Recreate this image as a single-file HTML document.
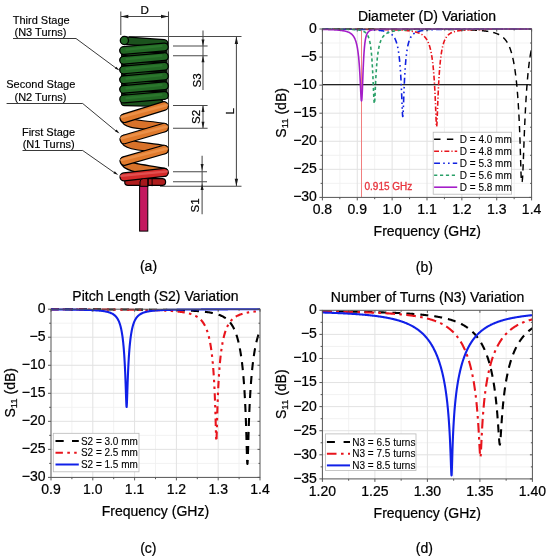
<!DOCTYPE html>
<html><head><meta charset="utf-8"><title>Helical antenna parametric study</title>
<style>
html,body{margin:0;padding:0;background:#fff;}
body{width:550px;height:560px;overflow:hidden;}
svg{display:block;}
text{font-family:"Liberation Sans", Arial, Helvetica, sans-serif;fill:#000;stroke:#000;stroke-width:0.22px;}
.ti{font-size:14px;}
.al{font-size:14px;}
.tl{font-size:14px;}
.lg{font-size:10px;stroke-width:0.1px;}
.st{font-size:11px;fill:#000;stroke-width:0.15px;}
.dt{font-size:11.6px;fill:#000;}
.gm{stroke:#f0f0f0;stroke-width:0.9;}
.gM{stroke:#e2e2e2;stroke-width:1;}
.tk{stroke:#444;stroke-width:0.9;fill:none;}
.box{fill:none;stroke:#555;stroke-width:1;}
.c{fill:none;stroke-width:1.6;stroke-linejoin:round;}
.c2{fill:none;stroke-width:2.1;stroke-linejoin:round;}
</style></head>
<body>
<svg width="550" height="560" viewBox="0 0 550 560">
<line x1="339.83" y1="29" x2="339.83" y2="197.4" class="gm"/>
<line x1="374.7" y1="29" x2="374.7" y2="197.4" class="gm"/>
<line x1="409.57" y1="29" x2="409.57" y2="197.4" class="gm"/>
<line x1="444.43" y1="29" x2="444.43" y2="197.4" class="gm"/>
<line x1="479.3" y1="29" x2="479.3" y2="197.4" class="gm"/>
<line x1="514.17" y1="29" x2="514.17" y2="197.4" class="gm"/>
<line x1="322.4" y1="43.03" x2="531.6" y2="43.03" class="gm"/>
<line x1="322.4" y1="71.1" x2="531.6" y2="71.1" class="gm"/>
<line x1="322.4" y1="99.17" x2="531.6" y2="99.17" class="gm"/>
<line x1="322.4" y1="127.23" x2="531.6" y2="127.23" class="gm"/>
<line x1="322.4" y1="155.3" x2="531.6" y2="155.3" class="gm"/>
<line x1="322.4" y1="183.37" x2="531.6" y2="183.37" class="gm"/>
<line x1="357.27" y1="29" x2="357.27" y2="197.4" class="gM"/>
<line x1="392.13" y1="29" x2="392.13" y2="197.4" class="gM"/>
<line x1="427" y1="29" x2="427" y2="197.4" class="gM"/>
<line x1="461.87" y1="29" x2="461.87" y2="197.4" class="gM"/>
<line x1="496.73" y1="29" x2="496.73" y2="197.4" class="gM"/>
<line x1="322.4" y1="57.07" x2="531.6" y2="57.07" class="gM"/>
<line x1="322.4" y1="85.13" x2="531.6" y2="85.13" class="gM"/>
<line x1="322.4" y1="113.2" x2="531.6" y2="113.2" class="gM"/>
<line x1="322.4" y1="141.27" x2="531.6" y2="141.27" class="gM"/>
<line x1="322.4" y1="169.33" x2="531.6" y2="169.33" class="gM"/>
<clipPath id="cb"><rect x="322.4" y="27" width="209.2" height="170"/></clipPath>
<g clip-path="url(#cb)">
<line x1="322.4" y1="84.7" x2="531.6" y2="84.7" stroke="#222" stroke-width="1.3"/>
<line x1="361.5" y1="29" x2="361.5" y2="197" stroke="#f07878" stroke-width="0.95"/>
<path d="M322.4,29.04 L322.9,29.04 L323.4,29.04 L323.89,29.04 L324.39,29.04 L324.89,29.04 L325.39,29.04 L325.89,29.04 L326.38,29.04 L326.88,29.04 L327.38,29.04 L327.88,29.04 L328.38,29.04 L328.88,29.04 L329.37,29.05 L329.87,29.05 L330.37,29.05 L330.87,29.05 L331.37,29.05 L331.86,29.05 L332.36,29.05 L332.86,29.05 L333.36,29.05 L333.86,29.05 L334.35,29.05 L334.85,29.05 L335.35,29.05 L335.85,29.05 L336.35,29.05 L336.84,29.05 L337.34,29.05 L337.84,29.05 L338.34,29.05 L338.84,29.05 L339.34,29.05 L339.83,29.05 L340.33,29.05 L340.83,29.05 L341.33,29.05 L341.83,29.05 L342.32,29.05 L342.82,29.05 L343.32,29.05 L343.82,29.05 L344.32,29.05 L344.81,29.05 L345.31,29.06 L345.81,29.06 L346.31,29.06 L346.81,29.06 L347.3,29.06 L347.8,29.06 L348.3,29.06 L348.8,29.06 L349.3,29.06 L349.8,29.06 L350.29,29.06 L350.79,29.06 L351.29,29.06 L351.79,29.06 L352.29,29.06 L352.78,29.06 L353.28,29.06 L353.78,29.06 L354.28,29.06 L354.78,29.06 L355.27,29.06 L355.77,29.06 L356.27,29.06 L356.77,29.06 L357.27,29.06 L357.76,29.07 L358.26,29.07 L358.76,29.07 L359.26,29.07 L359.76,29.07 L360.26,29.07 L360.75,29.07 L361.25,29.07 L361.75,29.07 L362.25,29.07 L362.75,29.07 L363.24,29.07 L363.74,29.07 L364.24,29.07 L364.74,29.07 L365.24,29.07 L365.73,29.07 L366.23,29.07 L366.73,29.07 L367.23,29.07 L367.73,29.08 L368.22,29.08 L368.72,29.08 L369.22,29.08 L369.72,29.08 L370.22,29.08 L370.72,29.08 L371.21,29.08 L371.71,29.08 L372.21,29.08 L372.71,29.08 L373.21,29.08 L373.7,29.08 L374.2,29.08 L374.7,29.08 L375.2,29.08 L375.7,29.09 L376.19,29.09 L376.69,29.09 L377.19,29.09 L377.69,29.09 L378.19,29.09 L378.68,29.09 L379.18,29.09 L379.68,29.09 L380.18,29.09 L380.68,29.09 L381.18,29.09 L381.67,29.09 L382.17,29.09 L382.67,29.1 L383.17,29.1 L383.67,29.1 L384.16,29.1 L384.66,29.1 L385.16,29.1 L385.66,29.1 L386.16,29.1 L386.65,29.1 L387.15,29.1 L387.65,29.1 L388.15,29.1 L388.65,29.11 L389.14,29.11 L389.64,29.11 L390.14,29.11 L390.64,29.11 L391.14,29.11 L391.64,29.11 L392.13,29.11 L392.63,29.11 L393.13,29.11 L393.63,29.12 L394.13,29.12 L394.62,29.12 L395.12,29.12 L395.62,29.12 L396.12,29.12 L396.62,29.12 L397.11,29.12 L397.61,29.12 L398.11,29.13 L398.61,29.13 L399.11,29.13 L399.6,29.13 L400.1,29.13 L400.6,29.13 L401.1,29.13 L401.6,29.13 L402.1,29.13 L402.59,29.14 L403.09,29.14 L403.59,29.14 L404.09,29.14 L404.59,29.14 L405.08,29.14 L405.58,29.14 L406.08,29.15 L406.58,29.15 L407.08,29.15 L407.57,29.15 L408.07,29.15 L408.57,29.15 L409.07,29.15 L409.57,29.16 L410.06,29.16 L410.56,29.16 L411.06,29.16 L411.56,29.16 L412.06,29.16 L412.56,29.17 L413.05,29.17 L413.55,29.17 L414.05,29.17 L414.55,29.17 L415.05,29.18 L415.54,29.18 L416.04,29.18 L416.54,29.18 L417.04,29.18 L417.54,29.19 L418.03,29.19 L418.53,29.19 L419.03,29.19 L419.53,29.19 L420.03,29.2 L420.52,29.2 L421.02,29.2 L421.52,29.2 L422.02,29.21 L422.52,29.21 L423.02,29.21 L423.51,29.21 L424.01,29.22 L424.51,29.22 L425.01,29.22 L425.51,29.22 L426,29.23 L426.5,29.23 L427,29.23 L427.5,29.23 L428,29.24 L428.49,29.24 L428.99,29.24 L429.49,29.25 L429.99,29.25 L430.49,29.25 L430.98,29.26 L431.48,29.26 L431.98,29.26 L432.48,29.26 L432.98,29.27 L433.48,29.27 L433.97,29.28 L434.47,29.28 L434.97,29.28 L435.47,29.29 L435.97,29.29 L436.46,29.29 L436.96,29.3 L437.46,29.3 L437.96,29.31 L438.46,29.31 L438.95,29.32 L439.45,29.32 L439.95,29.32 L440.45,29.33 L440.95,29.33 L441.44,29.34 L441.94,29.34 L442.44,29.35 L442.94,29.35 L443.44,29.36 L443.94,29.36 L444.43,29.37 L444.93,29.37 L445.43,29.38 L445.93,29.39 L446.43,29.39 L446.92,29.4 L447.42,29.4 L447.92,29.41 L448.42,29.42 L448.92,29.42 L449.41,29.43 L449.91,29.44 L450.41,29.44 L450.91,29.45 L451.41,29.46 L451.9,29.47 L452.4,29.47 L452.9,29.48 L453.4,29.49 L453.9,29.5 L454.4,29.51 L454.89,29.51 L455.39,29.52 L455.89,29.53 L456.39,29.54 L456.89,29.55 L457.38,29.56 L457.88,29.57 L458.38,29.58 L458.88,29.59 L459.38,29.6 L459.87,29.61 L460.37,29.63 L460.87,29.64 L461.37,29.65 L461.87,29.66 L462.36,29.67 L462.86,29.69 L463.36,29.7 L463.86,29.72 L464.36,29.73 L464.86,29.74 L465.35,29.76 L465.85,29.77 L466.35,29.79 L466.85,29.81 L467.35,29.82 L467.84,29.84 L468.34,29.86 L468.84,29.88 L469.34,29.9 L469.84,29.92 L470.33,29.94 L470.83,29.96 L471.33,29.98 L471.83,30 L472.33,30.03 L472.82,30.05 L473.32,30.07 L473.82,30.1 L474.32,30.13 L474.82,30.15 L475.32,30.18 L475.81,30.21 L476.31,30.24 L476.81,30.27 L477.31,30.3 L477.81,30.34 L478.3,30.37 L478.8,30.41 L479.3,30.45 L479.8,30.48 L480.3,30.53 L480.79,30.57 L481.29,30.61 L481.79,30.66 L482.29,30.7 L482.79,30.75 L483.28,30.8 L483.78,30.86 L484.28,30.91 L484.78,30.97 L485.28,31.03 L485.78,31.09 L486.27,31.16 L486.77,31.23 L487.27,31.3 L487.77,31.38 L488.27,31.45 L488.76,31.54 L489.26,31.62 L489.76,31.71 L490.26,31.81 L490.76,31.91 L491.25,32.01 L491.75,32.12 L492.25,32.24 L492.75,32.36 L493.25,32.49 L493.74,32.62 L494.24,32.77 L494.74,32.92 L495.24,33.08 L495.74,33.25 L496.24,33.42 L496.73,33.61 L497.23,33.81 L497.73,34.03 L498.23,34.25 L498.73,34.49 L499.22,34.75 L499.72,35.02 L500.22,35.31 L500.72,35.61 L501.22,35.94 L501.71,36.3 L502.21,36.67 L502.71,37.08 L503.21,37.51 L503.71,37.98 L504.2,38.48 L504.7,39.02 L505.2,39.6 L505.7,40.22 L506.2,40.9 L506.7,41.63 L507.19,42.42 L507.69,43.27 L508.19,44.2 L508.69,45.21 L509.19,46.31 L509.68,47.51 L510.18,48.81 L510.68,50.24 L511.15,51.7 L511.41,52.56 L511.66,53.45 L511.91,54.37 L512.16,55.32 L512.4,56.29 L512.64,57.29 L512.88,58.31 L513.11,59.37 L513.17,59.68 L513.33,60.45 L513.55,61.56 L513.67,62.17 L513.77,62.7 L513.98,63.87 L514.17,64.91 L514.4,66.3 L514.6,67.55 L514.66,67.95 L514.8,68.83 L515,70.15 L515.16,71.32 L515.37,72.85 L515.56,74.25 L515.66,75.07 L515.74,75.68 L515.91,77.13 L516.08,78.61 L516.16,79.27 L516.25,80.12 L516.42,81.66 L516.58,83.22 L516.66,83.97 L516.74,84.81 L516.9,86.43 L517.05,88.08 L517.16,89.28 L517.2,89.75 L517.34,91.45 L517.48,93.18 L517.62,94.93 L517.65,95.31 L517.76,96.71 L517.89,98.51 L518.02,100.34 L518.15,102.19 L518.27,104.07 L518.39,105.97 L518.51,107.89 L518.63,109.84 L518.65,110.27 L518.74,111.81 L518.85,113.8 L518.95,115.82 L519.06,117.85 L519.15,119.71 L519.25,121.96 L519.35,124.05 L519.44,126.15 L519.53,128.26 L519.62,130.38 L519.65,130.99 L519.71,132.51 L519.79,134.65 L519.87,136.79 L519.95,138.93 L520.02,141.07 L520.1,143.2 L520.14,144.62 L520.17,145.32 L520.24,147.42 L520.3,149.5 L520.37,151.56 L520.43,153.58 L520.49,155.57 L520.55,157.51 L520.6,159.4 L520.64,160.74 L520.66,161.23 L520.71,163 L520.76,164.7 L520.81,166.33 L520.85,167.87 L520.9,169.33 L520.94,170.7 L520.98,171.98 L521.02,173.17 L521.06,174.26 L521.09,175.26 L521.13,176.17 L521.14,176.47 L521.16,177 L521.19,177.73 L521.22,178.39 L521.25,178.97 L521.28,179.48 L521.3,179.92 L521.33,180.31 L521.35,180.64 L521.37,180.93 L521.39,181.17 L521.43,181.54 L521.46,181.8 L521.5,182.03 L521.57,182.22 L521.83,182.2 L521.97,182.03 L522.06,181.81 L522.13,181.57 L522.2,181.21 L522.24,180.97 L522.28,180.69 L522.32,180.36 L522.37,179.96 L522.41,179.5 L522.46,178.97 L522.51,178.35 L522.56,177.64 L522.62,176.83 L522.63,176.55 L522.67,175.91 L522.73,174.89 L522.79,173.74 L522.85,172.47 L522.92,171.08 L522.98,169.56 L523.05,167.91 L523.12,166.15 L523.2,164.27 L523.27,162.28 L523.35,160.19 L523.43,158 L523.51,155.73 L523.6,153.38 L523.63,152.49 L523.69,150.97 L523.78,148.5 L523.87,145.97 L523.96,143.41 L524.06,140.82 L524.13,139.1 L524.16,138.2 L524.27,135.57 L524.37,132.92 L524.48,130.27 L524.59,127.62 L524.63,126.86 L524.71,124.97 L524.83,122.34 L524.95,119.71 L525.07,117.1 L525.12,115.98 L525.2,114.51 L525.33,111.93 L525.46,109.39 L525.6,106.86 L525.62,106.37 L525.73,104.37 L525.88,101.9 L526.02,99.47 L526.12,97.87 L526.17,97.07 L526.32,94.7 L526.48,92.37 L526.62,90.33 L526.64,90.07 L526.8,87.82 L526.97,85.6 L527.12,83.64 L527.31,81.29 L527.48,79.19 L527.62,77.68 L527.66,77.15 L527.85,75.14 L528.03,73.19 L528.11,72.37 L528.22,71.28 L528.42,69.41 L528.61,67.65 L528.82,65.84 L529.03,64.12 L529.11,63.45 L529.23,62.46 L529.45,60.85 L529.61,59.71 L529.67,59.29 L529.89,57.79 L530.11,56.39 L530.34,54.93 L530.58,53.59 L530.82,52.29 L531.06,51.05 L531.1,50.83 L531.3,49.85 L531.56,48.71 L531.6,48.52" class="c" stroke="#000" stroke-width="1.45" style="stroke-width:1.45px" stroke-dasharray="6.4,5"/>
<path d="M322.4,29.13 L322.9,29.13 L323.4,29.13 L323.89,29.13 L324.39,29.13 L324.89,29.13 L325.39,29.14 L325.89,29.14 L326.38,29.14 L326.88,29.14 L327.38,29.14 L327.88,29.14 L328.38,29.14 L328.88,29.14 L329.37,29.15 L329.87,29.15 L330.37,29.15 L330.87,29.15 L331.37,29.15 L331.86,29.15 L332.36,29.15 L332.86,29.15 L333.36,29.16 L333.86,29.16 L334.35,29.16 L334.85,29.16 L335.35,29.16 L335.85,29.16 L336.35,29.16 L336.84,29.17 L337.34,29.17 L337.84,29.17 L338.34,29.17 L338.84,29.17 L339.34,29.17 L339.83,29.18 L340.33,29.18 L340.83,29.18 L341.33,29.18 L341.83,29.18 L342.32,29.19 L342.82,29.19 L343.32,29.19 L343.82,29.19 L344.32,29.19 L344.81,29.19 L345.31,29.2 L345.81,29.2 L346.31,29.2 L346.81,29.2 L347.3,29.21 L347.8,29.21 L348.3,29.21 L348.8,29.21 L349.3,29.21 L349.8,29.22 L350.29,29.22 L350.79,29.22 L351.29,29.22 L351.79,29.23 L352.29,29.23 L352.78,29.23 L353.28,29.23 L353.78,29.24 L354.28,29.24 L354.78,29.24 L355.27,29.24 L355.77,29.25 L356.27,29.25 L356.77,29.25 L357.27,29.26 L357.76,29.26 L358.26,29.26 L358.76,29.27 L359.26,29.27 L359.76,29.27 L360.26,29.28 L360.75,29.28 L361.25,29.28 L361.75,29.29 L362.25,29.29 L362.75,29.29 L363.24,29.3 L363.74,29.3 L364.24,29.3 L364.74,29.31 L365.24,29.31 L365.73,29.32 L366.23,29.32 L366.73,29.33 L367.23,29.33 L367.73,29.33 L368.22,29.34 L368.72,29.34 L369.22,29.35 L369.72,29.35 L370.22,29.36 L370.72,29.36 L371.21,29.37 L371.71,29.37 L372.21,29.38 L372.71,29.39 L373.21,29.39 L373.7,29.4 L374.2,29.4 L374.7,29.41 L375.2,29.41 L375.7,29.42 L376.19,29.43 L376.69,29.43 L377.19,29.44 L377.69,29.45 L378.19,29.46 L378.68,29.46 L379.18,29.47 L379.68,29.48 L380.18,29.49 L380.68,29.49 L381.18,29.5 L381.67,29.51 L382.17,29.52 L382.67,29.53 L383.17,29.54 L383.67,29.55 L384.16,29.56 L384.66,29.57 L385.16,29.58 L385.66,29.59 L386.16,29.6 L386.65,29.61 L387.15,29.62 L387.65,29.63 L388.15,29.65 L388.65,29.66 L389.14,29.67 L389.64,29.69 L390.14,29.7 L390.64,29.71 L391.14,29.73 L391.64,29.74 L392.13,29.76 L392.63,29.77 L393.13,29.79 L393.63,29.81 L394.13,29.83 L394.62,29.84 L395.12,29.86 L395.62,29.88 L396.12,29.9 L396.62,29.92 L397.11,29.95 L397.61,29.97 L398.11,29.99 L398.61,30.02 L399.11,30.04 L399.6,30.07 L400.1,30.09 L400.6,30.12 L401.1,30.15 L401.6,30.18 L402.1,30.21 L402.59,30.25 L403.09,30.28 L403.59,30.32 L404.09,30.35 L404.59,30.39 L405.08,30.43 L405.58,30.48 L406.08,30.52 L406.58,30.57 L407.08,30.62 L407.57,30.67 L408.07,30.72 L408.57,30.78 L409.07,30.84 L409.57,30.9 L410.06,30.96 L410.56,31.03 L411.06,31.1 L411.56,31.18 L412.06,31.26 L412.56,31.35 L413.05,31.44 L413.55,31.53 L414.05,31.63 L414.55,31.74 L415.05,31.85 L415.54,31.98 L416.04,32.1 L416.54,32.24 L417.04,32.39 L417.54,32.55 L418.03,32.72 L418.53,32.9 L419.03,33.09 L419.53,33.3 L420.03,33.52 L420.52,33.77 L421.02,34.03 L421.52,34.32 L422.02,34.63 L422.52,34.96 L423.02,35.33 L423.51,35.74 L424.01,36.18 L424.51,36.66 L425.01,37.2 L425.51,37.79 L426,38.44 L426.13,38.62 L426.39,39 L426.5,39.17 L426.65,39.4 L426.9,39.81 L427,39.99 L427.14,40.24 L427.38,40.68 L427.5,40.9 L427.62,41.14 L427.86,41.62 L428,41.92 L428.09,42.12 L428.31,42.64 L428.49,43.08 L428.75,43.73 L428.97,44.31 L429.18,44.91 L429.38,45.53 L429.49,45.87 L429.58,46.17 L429.78,46.83 L429.98,47.52 L430.17,48.23 L430.35,48.97 L430.49,49.51 L430.54,49.73 L430.72,50.51 L430.89,51.32 L430.98,51.76 L431.07,52.16 L431.24,53.02 L431.4,53.91 L431.48,54.37 L431.56,54.83 L431.72,55.77 L431.88,56.74 L431.98,57.41 L432.03,57.73 L432.18,58.75 L432.32,59.8 L432.47,60.88 L432.6,61.98 L432.74,63.11 L432.87,64.27 L432.98,65.21 L433,65.45 L433.13,66.66 L433.25,67.89 L433.37,69.15 L433.48,70.26 L433.61,71.75 L433.72,73.08 L433.83,74.43 L433.93,75.81 L433.97,76.33 L434.04,77.2 L434.14,78.62 L434.24,80.05 L434.33,81.5 L434.42,82.97 L434.47,83.73 L434.51,84.45 L434.6,85.94 L434.69,87.44 L434.77,88.95 L434.85,90.47 L434.93,91.99 L434.97,92.81 L435,93.51 L435.08,95.03 L435.15,96.55 L435.22,98.05 L435.28,99.55 L435.35,101.03 L435.41,102.49 L435.47,103.88 L435.53,105.35 L435.58,106.74 L435.64,108.1 L435.69,109.41 L435.74,110.69 L435.79,111.93 L435.83,113.12 L435.88,114.25 L435.92,115.34 L435.96,116.37 L436,117.35 L436.04,118.27 L436.08,119.13 L436.11,119.93 L436.14,120.67 L436.17,121.36 L436.2,121.99 L436.23,122.56 L436.26,123.09 L436.28,123.56 L436.31,123.98 L436.33,124.36 L436.35,124.7 L436.37,124.99 L436.39,125.26 L436.43,125.68 L436.46,126 L436.48,126.23 L436.52,126.45 L436.57,126.65 L436.67,126.5 L436.72,126.23 L436.75,126 L436.79,125.67 L436.83,125.23 L436.85,124.95 L436.87,124.64 L436.9,124.28 L436.92,123.88 L436.95,123.42 L436.98,122.91 L437.01,122.34 L437.04,121.71 L437.07,121.02 L437.11,120.26 L437.14,119.44 L437.18,118.55 L437.22,117.59 L437.26,116.56 L437.3,115.47 L437.35,114.31 L437.39,113.09 L437.44,111.81 L437.46,111.33 L437.49,110.48 L437.54,109.09 L437.6,107.66 L437.65,106.18 L437.71,104.66 L437.77,103.11 L437.83,101.53 L437.9,99.92 L437.96,98.46 L438.03,96.65 L438.1,95 L438.18,93.34 L438.25,91.67 L438.33,90 L438.41,88.34 L438.46,87.43 L438.49,86.68 L438.58,85.03 L438.67,83.39 L438.76,81.76 L438.85,80.16 L438.95,78.57 L439.04,77 L439.14,75.45 L439.25,73.93 L439.35,72.43 L439.45,71.11 L439.58,69.52 L439.69,68.1 L439.81,66.72 L439.93,65.37 L439.95,65.12 L440.05,64.04 L440.18,62.75 L440.31,61.49 L440.44,60.27 L440.58,59.07 L440.72,57.91 L440.86,56.79 L440.95,56.11 L441,55.69 L441.15,54.63 L441.3,53.6 L441.44,52.7 L441.62,51.65 L441.78,50.72 L441.94,49.84 L442.12,48.95 L442.29,48.12 L442.44,47.42 L442.64,46.54 L442.83,45.79 L442.94,45.36 L443.01,45.07 L443.21,44.38 L443.4,43.72 L443.6,43.08 L443.8,42.47 L443.94,42.09 L444.01,41.89 L444.22,41.33 L444.43,40.79 L444.65,40.27 L444.87,39.78 L445.1,39.31 L445.33,38.86 L445.43,38.66 L445.56,38.43 L445.8,38.02 L445.93,37.8 L446.04,37.62 L446.29,37.24 L446.43,37.04 L446.54,36.88 L446.79,36.54 L446.92,36.37 L447.05,36.21 L447.42,35.78 L447.92,35.25 L448.42,34.78 L448.92,34.35 L449.41,33.97 L449.91,33.63 L450.41,33.32 L450.91,33.04 L451.41,32.79 L451.9,32.56 L452.4,32.34 L452.9,32.15 L453.4,31.97 L453.9,31.81 L454.4,31.66 L454.89,31.52 L455.39,31.39 L455.89,31.27 L456.39,31.16 L456.89,31.05 L457.38,30.96 L457.88,30.87 L458.38,30.78 L458.88,30.7 L459.38,30.63 L459.87,30.56 L460.37,30.5 L460.87,30.44 L461.37,30.38 L461.87,30.32 L462.36,30.27 L462.86,30.22 L463.36,30.18 L463.86,30.14 L464.36,30.1 L464.86,30.06 L465.35,30.02 L465.85,29.99 L466.35,29.95 L466.85,29.92 L467.35,29.89 L467.84,29.86 L468.34,29.83 L468.84,29.81 L469.34,29.78 L469.84,29.76 L470.33,29.74 L470.83,29.72 L471.33,29.7 L471.83,29.68 L472.33,29.66 L472.82,29.64 L473.32,29.62 L473.82,29.6 L474.32,29.59 L474.82,29.57 L475.32,29.56 L475.81,29.54 L476.31,29.53 L476.81,29.52 L477.31,29.5 L477.81,29.49 L478.3,29.48 L478.8,29.47 L479.3,29.46 L479.8,29.45 L480.3,29.43 L480.79,29.42 L481.29,29.42 L481.79,29.41 L482.29,29.4 L482.79,29.39 L483.28,29.38 L483.78,29.37 L484.28,29.36 L484.78,29.36 L485.28,29.35 L485.78,29.34 L486.27,29.33 L486.77,29.33 L487.27,29.32 L487.77,29.31 L488.27,29.31 L488.76,29.3 L489.26,29.3 L489.76,29.29 L490.26,29.29 L490.76,29.28 L491.25,29.27 L491.75,29.27 L492.25,29.26 L492.75,29.26 L493.25,29.26 L493.74,29.25 L494.24,29.25 L494.74,29.24 L495.24,29.24 L495.74,29.23 L496.24,29.23 L496.73,29.23 L497.23,29.22 L497.73,29.22 L498.23,29.21 L498.73,29.21 L499.22,29.21 L499.72,29.2 L500.22,29.2 L500.72,29.2 L501.22,29.19 L501.71,29.19 L502.21,29.19 L502.71,29.19 L503.21,29.18 L503.71,29.18 L504.2,29.18 L504.7,29.17 L505.2,29.17 L505.7,29.17 L506.2,29.17 L506.7,29.16 L507.19,29.16 L507.69,29.16 L508.19,29.16 L508.69,29.16 L509.19,29.15 L509.68,29.15 L510.18,29.15 L510.68,29.15 L511.18,29.14 L511.68,29.14 L512.17,29.14 L512.67,29.14 L513.17,29.14 L513.67,29.14 L514.17,29.13 L514.66,29.13 L515.16,29.13 L515.66,29.13 L516.16,29.13 L516.66,29.13 L517.16,29.12 L517.65,29.12 L518.15,29.12 L518.65,29.12 L519.15,29.12 L519.65,29.12 L520.14,29.11 L520.64,29.11 L521.14,29.11 L521.64,29.11 L522.14,29.11 L522.63,29.11 L523.13,29.11 L523.63,29.11 L524.13,29.1 L524.63,29.1 L525.12,29.1 L525.62,29.1 L526.12,29.1 L526.62,29.1 L527.12,29.1 L527.62,29.1 L528.11,29.09 L528.61,29.09 L529.11,29.09 L529.61,29.09 L530.11,29.09 L530.6,29.09 L531.1,29.09 L531.6,29.09" class="c" stroke="#e8141c" stroke-dasharray="4.9,2.1,1.2,2.1"/>
<path d="M322.4,29.13 L322.9,29.13 L323.4,29.13 L323.89,29.13 L324.39,29.13 L324.89,29.13 L325.39,29.14 L325.89,29.14 L326.38,29.14 L326.88,29.14 L327.38,29.14 L327.88,29.15 L328.38,29.15 L328.88,29.15 L329.37,29.15 L329.87,29.15 L330.37,29.16 L330.87,29.16 L331.37,29.16 L331.86,29.16 L332.36,29.16 L332.86,29.17 L333.36,29.17 L333.86,29.17 L334.35,29.17 L334.85,29.18 L335.35,29.18 L335.85,29.18 L336.35,29.18 L336.84,29.19 L337.34,29.19 L337.84,29.19 L338.34,29.19 L338.84,29.2 L339.34,29.2 L339.83,29.2 L340.33,29.21 L340.83,29.21 L341.33,29.21 L341.83,29.22 L342.32,29.22 L342.82,29.22 L343.32,29.23 L343.82,29.23 L344.32,29.24 L344.81,29.24 L345.31,29.24 L345.81,29.25 L346.31,29.25 L346.81,29.26 L347.3,29.26 L347.8,29.27 L348.3,29.27 L348.8,29.27 L349.3,29.28 L349.8,29.28 L350.29,29.29 L350.79,29.3 L351.29,29.3 L351.79,29.31 L352.29,29.31 L352.78,29.32 L353.28,29.32 L353.78,29.33 L354.28,29.34 L354.78,29.34 L355.27,29.35 L355.77,29.36 L356.27,29.37 L356.77,29.37 L357.27,29.38 L357.76,29.39 L358.26,29.4 L358.76,29.41 L359.26,29.42 L359.76,29.43 L360.26,29.44 L360.75,29.45 L361.25,29.46 L361.75,29.47 L362.25,29.48 L362.75,29.49 L363.24,29.5 L363.74,29.51 L364.24,29.53 L364.74,29.54 L365.24,29.55 L365.73,29.57 L366.23,29.58 L366.73,29.6 L367.23,29.62 L367.73,29.63 L368.22,29.65 L368.72,29.67 L369.22,29.69 L369.72,29.71 L370.22,29.73 L370.72,29.75 L371.21,29.77 L371.71,29.8 L372.21,29.82 L372.71,29.85 L373.21,29.88 L373.7,29.91 L374.2,29.94 L374.7,29.97 L375.2,30 L375.7,30.04 L376.19,30.08 L376.69,30.12 L377.19,30.16 L377.69,30.2 L378.19,30.25 L378.68,30.3 L379.18,30.35 L379.68,30.41 L380.18,30.47 L380.68,30.53 L381.18,30.6 L381.67,30.67 L382.17,30.74 L382.67,30.83 L383.17,30.91 L383.67,31.01 L384.16,31.11 L384.66,31.22 L385.16,31.34 L385.66,31.47 L386.16,31.6 L386.65,31.75 L387.15,31.92 L387.65,32.1 L388.15,32.29 L388.65,32.51 L389.14,32.74 L389.64,33 L390.14,33.29 L390.64,33.6 L391.14,33.96 L391.64,34.35 L392.13,34.79 L392.31,34.96 L392.57,35.23 L392.83,35.5 L393.08,35.79 L393.32,36.09 L393.57,36.4 L393.81,36.73 L394.04,37.08 L394.27,37.44 L394.49,37.81 L394.62,38.04 L394.72,38.21 L394.93,38.62 L395.12,39 L395.36,39.5 L395.56,39.97 L395.77,40.46 L395.96,40.98 L396.12,41.4 L396.35,42.07 L396.54,42.65 L396.62,42.91 L396.72,43.25 L396.9,43.89 L397.08,44.54 L397.25,45.23 L397.42,45.94 L397.58,46.67 L397.75,47.44 L397.9,48.23 L398.06,49.06 L398.11,49.34 L398.21,49.91 L398.36,50.8 L398.51,51.71 L398.61,52.39 L398.65,52.66 L398.79,53.63 L398.92,54.64 L399.06,55.68 L399.11,56.1 L399.19,56.75 L399.31,57.85 L399.44,58.99 L399.56,60.15 L399.6,60.64 L399.67,61.34 L399.79,62.57 L399.9,63.82 L400.01,65.1 L400.1,66.25 L400.22,67.75 L400.32,69.11 L400.42,70.49 L400.51,71.9 L400.6,73.24 L400.7,74.78 L400.78,76.24 L400.87,77.72 L400.95,79.22 L401.03,80.72 L401.1,82 L401.19,83.75 L401.26,85.27 L401.33,86.78 L401.4,88.29 L401.47,89.8 L401.53,91.29 L401.59,92.76 L401.65,94.21 L401.71,95.64 L401.77,97.04 L401.82,98.4 L401.87,99.73 L401.92,101.01 L401.97,102.25 L402.02,103.44 L402.06,104.58 L402.1,105.45 L402.14,106.69 L402.18,107.66 L402.22,108.57 L402.26,109.42 L402.29,110.2 L402.32,110.93 L402.36,111.6 L402.39,112.21 L402.41,112.76 L402.44,113.26 L402.47,113.71 L402.49,114.11 L402.51,114.47 L402.54,114.79 L402.56,115.06 L402.57,115.3 L402.61,115.69 L402.64,115.98 L402.68,116.26 L402.72,116.49 L402.86,116.35 L402.89,116.13 L402.92,115.9 L402.95,115.58 L402.99,115.14 L403.01,114.87 L403.03,114.56 L403.06,114.21 L403.08,113.81 L403.11,113.36 L403.13,112.86 L403.16,112.3 L403.19,111.68 L403.22,111 L403.25,110.26 L403.29,109.46 L403.32,108.59 L403.36,107.65 L403.4,106.66 L403.44,105.59 L403.49,104.47 L403.53,103.29 L403.58,102.05 L403.59,101.69 L403.62,100.76 L403.67,99.43 L403.73,98.04 L403.78,96.62 L403.84,95.17 L403.89,93.68 L403.95,92.16 L404.02,90.63 L404.08,89.08 L404.15,87.51 L404.22,85.94 L404.29,84.36 L404.36,82.78 L404.44,81.21 L404.51,79.64 L404.59,78.24 L404.68,76.54 L404.76,75.01 L404.85,73.5 L404.94,72.01 L405.03,70.54 L405.08,69.75 L405.13,69.09 L405.23,67.67 L405.33,66.28 L405.43,64.92 L405.54,63.58 L405.58,63.03 L405.65,62.28 L405.76,61.01 L405.87,59.77 L405.99,58.56 L406.08,57.68 L406.11,57.39 L406.23,56.25 L406.36,55.14 L406.49,54.07 L406.58,53.38 L406.62,53.03 L406.76,52.03 L406.9,51.06 L407.04,50.12 L407.08,49.9 L407.19,49.22 L407.33,48.35 L407.49,47.51 L407.57,47.05 L407.64,46.7 L407.8,45.93 L407.96,45.18 L408.07,44.7 L408.13,44.46 L408.3,43.78 L408.47,43.12 L408.57,42.76 L408.65,42.49 L408.83,41.88 L409.01,41.3 L409.2,40.75 L409.39,40.22 L409.57,39.75 L409.78,39.23 L409.98,38.77 L410.06,38.59 L410.19,38.33 L410.4,37.91 L410.56,37.59 L410.83,37.12 L411.05,36.75 L411.28,36.41 L411.51,36.07 L411.74,35.76 L411.98,35.45 L412.22,35.17 L412.47,34.89 L412.72,34.63 L412.97,34.38 L413.23,34.14 L413.55,33.87 L414.05,33.49 L414.55,33.15 L415.05,32.84 L415.54,32.57 L416.04,32.32 L416.54,32.1 L417.04,31.9 L417.54,31.72 L418.03,31.55 L418.53,31.4 L419.03,31.26 L419.53,31.13 L420.03,31.02 L420.52,30.91 L421.02,30.81 L421.52,30.72 L422.02,30.63 L422.52,30.55 L423.02,30.48 L423.51,30.41 L424.01,30.35 L424.51,30.29 L425.01,30.23 L425.51,30.18 L426,30.13 L426.5,30.09 L427,30.04 L427.5,30 L428,29.96 L428.49,29.93 L428.99,29.89 L429.49,29.86 L429.99,29.83 L430.49,29.8 L430.98,29.77 L431.48,29.75 L431.98,29.72 L432.48,29.7 L432.98,29.67 L433.48,29.65 L433.97,29.63 L434.47,29.61 L434.97,29.59 L435.47,29.58 L435.97,29.56 L436.46,29.54 L436.96,29.53 L437.46,29.51 L437.96,29.5 L438.46,29.48 L438.95,29.47 L439.45,29.46 L439.95,29.45 L440.45,29.43 L440.95,29.42 L441.44,29.41 L441.94,29.4 L442.44,29.39 L442.94,29.38 L443.44,29.37 L443.94,29.36 L444.43,29.36 L444.93,29.35 L445.43,29.34 L445.93,29.33 L446.43,29.32 L446.92,29.32 L447.42,29.31 L447.92,29.3 L448.42,29.3 L448.92,29.29 L449.41,29.28 L449.91,29.28 L450.41,29.27 L450.91,29.27 L451.41,29.26 L451.9,29.26 L452.4,29.25 L452.9,29.25 L453.4,29.24 L453.9,29.24 L454.4,29.23 L454.89,29.23 L455.39,29.22 L455.89,29.22 L456.39,29.21 L456.89,29.21 L457.38,29.21 L457.88,29.2 L458.38,29.2 L458.88,29.2 L459.38,29.19 L459.87,29.19 L460.37,29.19 L460.87,29.18 L461.37,29.18 L461.87,29.18 L462.36,29.17 L462.86,29.17 L463.36,29.17 L463.86,29.17 L464.36,29.16 L464.86,29.16 L465.35,29.16 L465.85,29.16 L466.35,29.15 L466.85,29.15 L467.35,29.15 L467.84,29.15 L468.34,29.14 L468.84,29.14 L469.34,29.14 L469.84,29.14 L470.33,29.14 L470.83,29.13 L471.33,29.13 L471.83,29.13 L472.33,29.13 L472.82,29.13 L473.32,29.12 L473.82,29.12 L474.32,29.12 L474.82,29.12 L475.32,29.12 L475.81,29.12 L476.31,29.11 L476.81,29.11 L477.31,29.11 L477.81,29.11 L478.3,29.11 L478.8,29.11 L479.3,29.11 L479.8,29.1 L480.3,29.1 L480.79,29.1 L481.29,29.1 L481.79,29.1 L482.29,29.1 L482.79,29.1 L483.28,29.1 L483.78,29.09 L484.28,29.09 L484.78,29.09 L485.28,29.09 L485.78,29.09 L486.27,29.09 L486.77,29.09 L487.27,29.09 L487.77,29.09 L488.27,29.08 L488.76,29.08 L489.26,29.08 L489.76,29.08 L490.26,29.08 L490.76,29.08 L491.25,29.08 L491.75,29.08 L492.25,29.08 L492.75,29.08 L493.25,29.08 L493.74,29.07 L494.24,29.07 L494.74,29.07 L495.24,29.07 L495.74,29.07 L496.24,29.07 L496.73,29.07 L497.23,29.07 L497.73,29.07 L498.23,29.07 L498.73,29.07 L499.22,29.07 L499.72,29.07 L500.22,29.06 L500.72,29.06 L501.22,29.06 L501.71,29.06 L502.21,29.06 L502.71,29.06 L503.21,29.06 L503.71,29.06 L504.2,29.06 L504.7,29.06 L505.2,29.06 L505.7,29.06 L506.2,29.06 L506.7,29.06 L507.19,29.06 L507.69,29.06 L508.19,29.06 L508.69,29.05 L509.19,29.05 L509.68,29.05 L510.18,29.05 L510.68,29.05 L511.18,29.05 L511.68,29.05 L512.17,29.05 L512.67,29.05 L513.17,29.05 L513.67,29.05 L514.17,29.05 L514.66,29.05 L515.16,29.05 L515.66,29.05 L516.16,29.05 L516.66,29.05 L517.16,29.05 L517.65,29.05 L518.15,29.05 L518.65,29.05 L519.15,29.05 L519.65,29.05 L520.14,29.04 L520.64,29.04 L521.14,29.04 L521.64,29.04 L522.14,29.04 L522.63,29.04 L523.13,29.04 L523.63,29.04 L524.13,29.04 L524.63,29.04 L525.12,29.04 L525.62,29.04 L526.12,29.04 L526.62,29.04 L527.12,29.04 L527.62,29.04 L528.11,29.04 L528.61,29.04 L529.11,29.04 L529.61,29.04 L530.11,29.04 L530.6,29.04 L531.1,29.04 L531.6,29.04" class="c" stroke="#1020e0" stroke-dasharray="5.9,3.2,1.6,3.2,1.6,3.2"/>
<path d="M322.4,29.07 L322.9,29.07 L323.4,29.08 L323.89,29.08 L324.39,29.08 L324.89,29.08 L325.39,29.08 L325.89,29.08 L326.38,29.09 L326.88,29.09 L327.38,29.09 L327.88,29.09 L328.38,29.1 L328.88,29.1 L329.37,29.1 L329.87,29.1 L330.37,29.11 L330.87,29.11 L331.37,29.11 L331.86,29.11 L332.36,29.12 L332.86,29.12 L333.36,29.12 L333.86,29.13 L334.35,29.13 L334.85,29.13 L335.35,29.14 L335.85,29.14 L336.35,29.15 L336.84,29.15 L337.34,29.16 L337.84,29.16 L338.34,29.16 L338.84,29.17 L339.34,29.18 L339.83,29.18 L340.33,29.19 L340.83,29.19 L341.33,29.2 L341.83,29.21 L342.32,29.21 L342.82,29.22 L343.32,29.23 L343.82,29.24 L344.32,29.25 L344.81,29.26 L345.31,29.27 L345.81,29.28 L346.31,29.29 L346.81,29.3 L347.3,29.31 L347.8,29.33 L348.3,29.34 L348.8,29.36 L349.3,29.37 L349.8,29.39 L350.29,29.41 L350.79,29.43 L351.29,29.45 L351.79,29.47 L352.29,29.5 L352.78,29.52 L353.28,29.55 L353.78,29.58 L354.28,29.61 L354.78,29.65 L355.27,29.68 L355.77,29.73 L356.27,29.77 L356.77,29.82 L357.27,29.87 L357.76,29.93 L358.26,30 L358.76,30.07 L359.26,30.15 L359.76,30.24 L360.26,30.33 L360.75,30.44 L361.25,30.56 L361.75,30.7 L362.25,30.86 L362.75,31.03 L363.24,31.23 L363.74,31.46 L363.99,31.59 L364.24,31.73 L364.5,31.88 L364.74,32.03 L365,32.21 L365.24,32.39 L365.48,32.58 L365.72,32.79 L365.95,33 L366.17,33.23 L366.39,33.48 L366.61,33.73 L366.73,33.88 L367.03,34.3 L367.23,34.59 L367.44,34.93 L367.64,35.28 L367.84,35.65 L368.03,36.04 L368.21,36.45 L368.4,36.89 L368.58,37.35 L368.72,37.75 L368.93,38.35 L369.09,38.9 L369.22,39.34 L369.42,40.09 L369.58,40.73 L369.72,41.33 L369.89,42.12 L370.04,42.87 L370.18,43.66 L370.33,44.49 L370.46,45.36 L370.6,46.27 L370.72,47.09 L370.86,48.21 L370.99,49.24 L371.11,50.32 L371.21,51.25 L371.35,52.6 L371.47,53.8 L371.58,55.04 L371.69,56.33 L371.71,56.63 L371.79,57.65 L371.9,59.01 L372,60.41 L372.1,61.84 L372.19,63.3 L372.21,63.59 L372.28,64.79 L372.37,66.3 L372.46,67.84 L372.55,69.39 L372.63,70.96 L372.71,72.49 L372.79,74.12 L372.86,75.71 L372.94,77.28 L373.01,78.85 L373.08,80.4 L373.14,81.93 L373.21,83.4 L373.27,84.89 L373.33,86.32 L373.39,87.7 L373.44,89.03 L373.5,90.31 L373.55,91.53 L373.6,92.68 L373.65,93.77 L373.69,94.8 L373.74,95.75 L373.78,96.64 L373.82,97.45 L373.86,98.2 L373.9,98.88 L373.93,99.5 L373.97,100.05 L374,100.55 L374.03,100.99 L374.06,101.38 L374.09,101.73 L374.12,102.03 L374.14,102.29 L374.17,102.52 L374.2,102.8 L374.23,103.02 L374.27,103.24 L374.32,103.45 L374.39,103.63 L374.51,103.49 L374.54,103.23 L374.58,102.88 L374.61,102.55 L374.65,102.11 L374.67,101.84 L374.69,101.55 L374.71,101.21 L374.73,100.84 L374.76,100.43 L374.78,99.98 L374.81,99.49 L374.84,98.95 L374.87,98.36 L374.9,97.73 L374.93,97.05 L374.97,96.32 L375,95.54 L375.04,94.72 L375.08,93.86 L375.12,92.94 L375.16,91.99 L375.2,91.19 L375.25,89.96 L375.3,88.89 L375.35,87.79 L375.4,86.66 L375.46,85.51 L375.51,84.33 L375.57,83.13 L375.63,81.91 L375.69,80.68 L375.76,79.44 L375.82,78.19 L375.89,76.94 L375.96,75.68 L376.04,74.43 L376.11,73.18 L376.19,71.93 L376.27,70.7 L376.35,69.47 L376.44,68.26 L376.53,67.06 L376.62,65.88 L376.69,64.92 L376.81,63.56 L376.9,62.44 L377,61.33 L377.11,60.25 L377.19,59.41 L377.21,59.18 L377.32,58.14 L377.43,57.13 L377.55,56.14 L377.67,55.17 L377.79,54.23 L377.91,53.32 L378.04,52.43 L378.17,51.57 L378.3,50.73 L378.44,49.92 L378.58,49.13 L378.68,48.54 L378.86,47.63 L379.01,46.92 L379.16,46.23 L379.32,45.56 L379.48,44.92 L379.64,44.3 L379.81,43.7 L379.97,43.13 L380.15,42.57 L380.32,42.04 L380.5,41.53 L380.68,41.06 L380.87,40.56 L381.06,40.1 L381.18,39.85 L381.26,39.67 L381.46,39.25 L381.66,38.84 L381.87,38.45 L382.08,38.08 L382.17,37.92 L382.29,37.72 L382.51,37.38 L382.67,37.14 L382.95,36.74 L383.17,36.46 L383.42,36.15 L383.66,35.87 L383.9,35.6 L384.15,35.35 L384.4,35.1 L384.65,34.87 L384.91,34.64 L385.16,34.44 L385.66,34.06 L386.16,33.73 L386.65,33.42 L387.15,33.15 L387.65,32.9 L388.15,32.67 L388.65,32.46 L389.14,32.27 L389.64,32.09 L390.14,31.93 L390.64,31.79 L391.14,31.65 L391.64,31.52 L392.13,31.4 L392.63,31.29 L393.13,31.19 L393.63,31.1 L394.13,31.01 L394.62,30.92 L395.12,30.85 L395.62,30.77 L396.12,30.7 L396.62,30.64 L397.11,30.58 L397.61,30.52 L398.11,30.47 L398.61,30.42 L399.11,30.37 L399.6,30.32 L400.1,30.28 L400.6,30.23 L401.1,30.2 L401.6,30.16 L402.1,30.12 L402.59,30.09 L403.09,30.06 L403.59,30.02 L404.09,29.99 L404.59,29.97 L405.08,29.94 L405.58,29.91 L406.08,29.89 L406.58,29.87 L407.08,29.84 L407.57,29.82 L408.07,29.8 L408.57,29.78 L409.07,29.76 L409.57,29.74 L410.06,29.72 L410.56,29.71 L411.06,29.69 L411.56,29.67 L412.06,29.66 L412.56,29.64 L413.05,29.63 L413.55,29.61 L414.05,29.6 L414.55,29.59 L415.05,29.58 L415.54,29.56 L416.04,29.55 L416.54,29.54 L417.04,29.53 L417.54,29.52 L418.03,29.51 L418.53,29.5 L419.03,29.49 L419.53,29.48 L420.03,29.47 L420.52,29.46 L421.02,29.45 L421.52,29.44 L422.02,29.44 L422.52,29.43 L423.02,29.42 L423.51,29.41 L424.01,29.41 L424.51,29.4 L425.01,29.39 L425.51,29.39 L426,29.38 L426.5,29.37 L427,29.37 L427.5,29.36 L428,29.35 L428.49,29.35 L428.99,29.34 L429.49,29.34 L429.99,29.33 L430.49,29.33 L430.98,29.32 L431.48,29.32 L431.98,29.31 L432.48,29.31 L432.98,29.3 L433.48,29.3 L433.97,29.29 L434.47,29.29 L434.97,29.29 L435.47,29.28 L435.97,29.28 L436.46,29.27 L436.96,29.27 L437.46,29.27 L437.96,29.26 L438.46,29.26 L438.95,29.26 L439.45,29.25 L439.95,29.25 L440.45,29.25 L440.95,29.24 L441.44,29.24 L441.94,29.24 L442.44,29.23 L442.94,29.23 L443.44,29.23 L443.94,29.22 L444.43,29.22 L444.93,29.22 L445.43,29.22 L445.93,29.21 L446.43,29.21 L446.92,29.21 L447.42,29.21 L447.92,29.2 L448.42,29.2 L448.92,29.2 L449.41,29.2 L449.91,29.19 L450.41,29.19 L450.91,29.19 L451.41,29.19 L451.9,29.19 L452.4,29.18 L452.9,29.18 L453.4,29.18 L453.9,29.18 L454.4,29.17 L454.89,29.17 L455.39,29.17 L455.89,29.17 L456.39,29.17 L456.89,29.17 L457.38,29.16 L457.88,29.16 L458.38,29.16 L458.88,29.16 L459.38,29.16 L459.87,29.16 L460.37,29.15 L460.87,29.15 L461.37,29.15 L461.87,29.15 L462.36,29.15 L462.86,29.15 L463.36,29.15 L463.86,29.14 L464.36,29.14 L464.86,29.14 L465.35,29.14 L465.85,29.14 L466.35,29.14 L466.85,29.14 L467.35,29.13 L467.84,29.13 L468.34,29.13 L468.84,29.13 L469.34,29.13 L469.84,29.13 L470.33,29.13 L470.83,29.13 L471.33,29.12 L471.83,29.12 L472.33,29.12 L472.82,29.12 L473.32,29.12 L473.82,29.12 L474.32,29.12 L474.82,29.12 L475.32,29.12 L475.81,29.12 L476.31,29.11 L476.81,29.11 L477.31,29.11 L477.81,29.11 L478.3,29.11 L478.8,29.11 L479.3,29.11 L479.8,29.11 L480.3,29.11 L480.79,29.11 L481.29,29.1 L481.79,29.1 L482.29,29.1 L482.79,29.1 L483.28,29.1 L483.78,29.1 L484.28,29.1 L484.78,29.1 L485.28,29.1 L485.78,29.1 L486.27,29.1 L486.77,29.1 L487.27,29.1 L487.77,29.09 L488.27,29.09 L488.76,29.09 L489.26,29.09 L489.76,29.09 L490.26,29.09 L490.76,29.09 L491.25,29.09 L491.75,29.09 L492.25,29.09 L492.75,29.09 L493.25,29.09 L493.74,29.09 L494.24,29.09 L494.74,29.09 L495.24,29.08 L495.74,29.08 L496.24,29.08 L496.73,29.08 L497.23,29.08 L497.73,29.08 L498.23,29.08 L498.73,29.08 L499.22,29.08 L499.72,29.08 L500.22,29.08 L500.72,29.08 L501.22,29.08 L501.71,29.08 L502.21,29.08 L502.71,29.08 L503.21,29.08 L503.71,29.07 L504.2,29.07 L504.7,29.07 L505.2,29.07 L505.7,29.07 L506.2,29.07 L506.7,29.07 L507.19,29.07 L507.69,29.07 L508.19,29.07 L508.69,29.07 L509.19,29.07 L509.68,29.07 L510.18,29.07 L510.68,29.07 L511.18,29.07 L511.68,29.07 L512.17,29.07 L512.67,29.07 L513.17,29.07 L513.67,29.07 L514.17,29.07 L514.66,29.06 L515.16,29.06 L515.66,29.06 L516.16,29.06 L516.66,29.06 L517.16,29.06 L517.65,29.06 L518.15,29.06 L518.65,29.06 L519.15,29.06 L519.65,29.06 L520.14,29.06 L520.64,29.06 L521.14,29.06 L521.64,29.06 L522.14,29.06 L522.63,29.06 L523.13,29.06 L523.63,29.06 L524.13,29.06 L524.63,29.06 L525.12,29.06 L525.62,29.06 L526.12,29.06 L526.62,29.06 L527.12,29.06 L527.62,29.06 L528.11,29.06 L528.61,29.05 L529.11,29.05 L529.61,29.05 L530.11,29.05 L530.6,29.05 L531.1,29.05 L531.6,29.05" class="c" stroke="#2aa068" stroke-dasharray="3.2,2.7"/>
<path d="M322.4,29.43 L322.9,29.44 L323.4,29.45 L323.89,29.46 L324.39,29.47 L324.89,29.49 L325.39,29.5 L325.89,29.51 L326.38,29.52 L326.88,29.54 L327.38,29.55 L327.88,29.57 L328.38,29.58 L328.88,29.6 L329.37,29.62 L329.87,29.64 L330.37,29.66 L330.87,29.68 L331.37,29.7 L331.86,29.72 L332.36,29.74 L332.86,29.77 L333.36,29.79 L333.86,29.82 L334.35,29.85 L334.85,29.87 L335.35,29.91 L335.85,29.94 L336.35,29.97 L336.84,30.01 L337.34,30.05 L337.84,30.09 L338.34,30.13 L338.84,30.18 L339.34,30.23 L339.83,30.28 L340.33,30.33 L340.83,30.39 L341.33,30.46 L341.83,30.52 L342.32,30.6 L342.82,30.68 L343.32,30.76 L343.82,30.85 L344.32,30.95 L344.81,31.05 L345.31,31.17 L345.81,31.29 L346.31,31.43 L346.81,31.58 L347.3,31.74 L347.8,31.92 L348.3,32.12 L348.8,32.33 L349.3,32.58 L349.8,32.84 L350.29,33.14 L350.79,33.48 L350.95,33.6 L351.21,33.8 L351.47,34 L351.72,34.22 L351.96,34.45 L352.21,34.69 L352.44,34.94 L352.68,35.2 L352.91,35.47 L353.13,35.76 L353.28,35.96 L353.57,36.38 L353.78,36.69 L354,37.05 L354.2,37.41 L354.41,37.79 L354.6,38.18 L354.78,38.55 L354.99,39.03 L355.18,39.48 L355.27,39.73 L355.36,39.95 L355.54,40.44 L355.72,40.95 L355.89,41.48 L356.06,42.04 L356.22,42.62 L356.38,43.23 L356.54,43.85 L356.7,44.51 L356.77,44.81 L356.85,45.19 L357,45.89 L357.15,46.63 L357.27,47.27 L357.43,48.17 L357.56,48.99 L357.7,49.83 L357.76,50.29 L357.82,50.7 L357.95,51.6 L358.08,52.53 L358.2,53.49 L358.26,54.04 L358.31,54.47 L358.43,55.48 L358.54,56.52 L358.65,57.59 L358.76,58.68 L358.86,59.79 L358.96,60.93 L359.06,62.09 L359.15,63.27 L359.25,64.47 L359.34,65.69 L359.42,66.93 L359.51,68.18 L359.59,69.44 L359.67,70.71 L359.75,71.99 L359.83,73.27 L359.9,74.55 L359.97,75.83 L360.04,77.11 L360.11,78.37 L360.17,79.63 L360.23,80.87 L360.26,81.34 L360.29,82.08 L360.35,83.28 L360.41,84.45 L360.46,85.59 L360.51,86.7 L360.56,87.77 L360.61,88.8 L360.66,89.79 L360.7,90.74 L360.74,91.64 L360.78,92.49 L360.82,93.29 L360.86,94.05 L360.9,94.75 L360.93,95.4 L360.96,96.01 L361,96.57 L361.03,97.08 L361.05,97.54 L361.08,97.96 L361.11,98.34 L361.13,98.68 L361.15,98.99 L361.17,99.26 L361.2,99.5 L361.23,99.89 L361.27,100.19 L361.31,100.49 L361.35,100.71 L361.46,100.85 L361.59,100.7 L361.67,100.45 L361.72,100.23 L361.77,99.89 L361.83,99.42 L361.86,99.12 L361.89,98.76 L361.93,98.35 L361.96,97.87 L362,97.33 L362.04,96.7 L362.08,96 L362.12,95.21 L362.17,94.32 L362.22,93.35 L362.25,92.64 L362.26,92.27 L362.31,91.1 L362.37,89.84 L362.42,88.48 L362.48,87.03 L362.53,85.5 L362.59,83.9 L362.66,82.22 L362.72,80.48 L362.75,79.8 L362.79,78.7 L362.86,76.87 L362.93,75.01 L363,73.13 L363.08,71.24 L363.15,69.35 L363.23,67.47 L363.24,67.23 L363.32,65.6 L363.4,63.76 L363.49,61.95 L363.58,60.17 L363.67,58.44 L363.74,57.2 L363.77,56.76 L363.87,55.14 L363.97,53.57 L364.07,52.06 L364.18,50.61 L364.24,49.79 L364.29,49.23 L364.4,47.91 L364.51,46.65 L364.63,45.47 L364.74,44.45 L364.87,43.28 L365,42.29 L365.13,41.35 L365.24,40.64 L365.4,39.65 L365.54,38.88 L365.68,38.17 L365.73,37.91 L365.83,37.5 L365.97,36.88 L366.13,36.3 L366.23,35.93 L366.44,35.27 L366.6,34.81 L366.73,34.48 L366.94,33.99 L367.11,33.62 L367.23,33.39 L367.47,32.98 L367.65,32.69 L367.84,32.42 L368.03,32.17 L368.22,31.95 L368.42,31.74 L368.62,31.54 L368.83,31.36 L369.04,31.2 L369.22,31.06 L369.47,30.9 L369.69,30.77 L369.92,30.65 L370.15,30.53 L370.38,30.43 L370.62,30.33 L370.86,30.24 L371.11,30.16 L371.36,30.08 L371.61,30.01 L371.87,29.95 L372.21,29.87 L372.71,29.77 L373.21,29.68 L373.7,29.61 L374.2,29.55 L374.7,29.5 L375.2,29.45 L375.7,29.41 L376.19,29.37 L376.69,29.34 L377.19,29.31 L377.69,29.28 L378.19,29.26 L378.68,29.24 L379.18,29.22 L379.68,29.21 L380.18,29.19 L380.68,29.18 L381.18,29.17 L381.67,29.16 L382.17,29.15 L382.67,29.14 L383.17,29.13 L383.67,29.12 L384.16,29.11 L384.66,29.11 L385.16,29.1 L385.66,29.1 L386.16,29.09 L386.65,29.09 L387.15,29.08 L387.65,29.08 L388.15,29.07 L388.65,29.07 L389.14,29.07 L389.64,29.06 L390.14,29.06 L390.64,29.06 L391.14,29.05 L391.64,29.05 L392.13,29.05 L392.63,29.05 L393.13,29.05 L393.63,29.04 L394.13,29.04 L394.62,29.04 L395.12,29.04 L395.62,29.04 L396.12,29.04 L396.62,29.03 L397.11,29.03 L397.61,29.03 L398.11,29.03 L398.61,29.03 L399.11,29.03 L399.6,29.03 L400.1,29.03 L400.6,29.03 L401.1,29.02 L401.6,29.02 L402.1,29.02 L402.59,29.02 L403.09,29.02 L403.59,29.02 L404.09,29.02 L404.59,29.02 L405.08,29.02 L405.58,29.02 L406.08,29.02 L406.58,29.02 L407.08,29.02 L407.57,29.02 L408.07,29.02 L408.57,29.02 L409.07,29.01 L409.57,29.01 L410.06,29.01 L410.56,29.01 L411.06,29.01 L411.56,29.01 L412.06,29.01 L412.56,29.01 L413.05,29.01 L413.55,29.01 L414.05,29.01 L414.55,29.01 L415.05,29.01 L415.54,29.01 L416.04,29.01 L416.54,29.01 L417.04,29.01 L417.54,29.01 L418.03,29.01 L418.53,29.01 L419.03,29.01 L419.53,29.01 L420.03,29.01 L420.52,29.01 L421.02,29.01 L421.52,29.01 L422.02,29.01 L422.52,29.01 L423.02,29.01 L423.51,29.01 L424.01,29.01 L424.51,29.01 L425.01,29.01 L425.51,29.01 L426,29.01 L426.5,29.01 L427,29.01 L427.5,29.01 L428,29.01 L428.49,29.01 L428.99,29.01 L429.49,29.01 L429.99,29.01 L430.49,29.01 L430.98,29.01 L431.48,29.01 L431.98,29.01 L432.48,29 L432.98,29 L433.48,29 L433.97,29 L434.47,29 L434.97,29 L435.47,29 L435.97,29 L436.46,29 L436.96,29 L437.46,29 L437.96,29 L438.46,29 L438.95,29 L439.45,29 L439.95,29 L440.45,29 L440.95,29 L441.44,29 L441.94,29 L442.44,29 L442.94,29 L443.44,29 L443.94,29 L444.43,29 L444.93,29 L445.43,29 L445.93,29 L446.43,29 L446.92,29 L447.42,29 L447.92,29 L448.42,29 L448.92,29 L449.41,29 L449.91,29 L450.41,29 L450.91,29 L451.41,29 L451.9,29 L452.4,29 L452.9,29 L453.4,29 L453.9,29 L454.4,29 L454.89,29 L455.39,29 L455.89,29 L456.39,29 L456.89,29 L457.38,29 L457.88,29 L458.38,29 L458.88,29 L459.38,29 L459.87,29 L460.37,29 L460.87,29 L461.37,29 L461.87,29 L462.36,29 L462.86,29 L463.36,29 L463.86,29 L464.36,29 L464.86,29 L465.35,29 L465.85,29 L466.35,29 L466.85,29 L467.35,29 L467.84,29 L468.34,29 L468.84,29 L469.34,29 L469.84,29 L470.33,29 L470.83,29 L471.33,29 L471.83,29 L472.33,29 L472.82,29 L473.32,29 L473.82,29 L474.32,29 L474.82,29 L475.32,29 L475.81,29 L476.31,29 L476.81,29 L477.31,29 L477.81,29 L478.3,29 L478.8,29 L479.3,29 L479.8,29 L480.3,29 L480.79,29 L481.29,29 L481.79,29 L482.29,29 L482.79,29 L483.28,29 L483.78,29 L484.28,29 L484.78,29 L485.28,29 L485.78,29 L486.27,29 L486.77,29 L487.27,29 L487.77,29 L488.27,29 L488.76,29 L489.26,29 L489.76,29 L490.26,29 L490.76,29 L491.25,29 L491.75,29 L492.25,29 L492.75,29 L493.25,29 L493.74,29 L494.24,29 L494.74,29 L495.24,29 L495.74,29 L496.24,29 L496.73,29 L497.23,29 L497.73,29 L498.23,29 L498.73,29 L499.22,29 L499.72,29 L500.22,29 L500.72,29 L501.22,29 L501.71,29 L502.21,29 L502.71,29 L503.21,29 L503.71,29 L504.2,29 L504.7,29 L505.2,29 L505.7,29 L506.2,29 L506.7,29 L507.19,29 L507.69,29 L508.19,29 L508.69,29 L509.19,29 L509.68,29 L510.18,29 L510.68,29 L511.18,29 L511.68,29 L512.17,29 L512.67,29 L513.17,29 L513.67,29 L514.17,29 L514.66,29 L515.16,29 L515.66,29 L516.16,29 L516.66,29 L517.16,29 L517.65,29 L518.15,29 L518.65,29 L519.15,29 L519.65,29 L520.14,29 L520.64,29 L521.14,29 L521.64,29 L522.14,29 L522.63,29 L523.13,29 L523.63,29 L524.13,29 L524.63,29 L525.12,29 L525.62,29 L526.12,29 L526.62,29 L527.12,29 L527.62,29 L528.11,29 L528.61,29 L529.11,29 L529.61,29 L530.11,29 L530.6,29 L531.1,29 L531.6,29" class="c" stroke="#a41ec8" />
</g>
<text x="364.5" y="189.7" style="font-size:10px;fill:#e8333c;stroke:#e8333c;stroke-width:0.3px">0.915 GHz</text>
<path d="M322.4,197.4v3 M322.4,29v2.5 M357.27,197.4v3 M357.27,29v2.5 M392.13,197.4v3 M392.13,29v2.5 M427,197.4v3 M427,29v2.5 M461.87,197.4v3 M461.87,29v2.5 M496.73,197.4v3 M496.73,29v2.5 M531.6,197.4v3 M531.6,29v2.5 M339.83,197.4v1.8 M339.83,29v1.5 M374.7,197.4v1.8 M374.7,29v1.5 M409.57,197.4v1.8 M409.57,29v1.5 M444.43,197.4v1.8 M444.43,29v1.5 M479.3,197.4v1.8 M479.3,29v1.5 M514.17,197.4v1.8 M514.17,29v1.5 M322.4,29h-3 M531.6,29h-2.5 M322.4,57.07h-3 M531.6,57.07h-2.5 M322.4,85.13h-3 M531.6,85.13h-2.5 M322.4,113.2h-3 M531.6,113.2h-2.5 M322.4,141.27h-3 M531.6,141.27h-2.5 M322.4,169.33h-3 M531.6,169.33h-2.5 M322.4,197.4h-3 M531.6,197.4h-2.5 M322.4,43.03h-1.8 M531.6,43.03h-1.5 M322.4,71.1h-1.8 M531.6,71.1h-1.5 M322.4,99.17h-1.8 M531.6,99.17h-1.5 M322.4,127.23h-1.8 M531.6,127.23h-1.5 M322.4,155.3h-1.8 M531.6,155.3h-1.5 M322.4,183.37h-1.8 M531.6,183.37h-1.5" class="tk"/>
<rect x="322.4" y="29" width="209.2" height="168.4" class="box"/>
<text x="322.4" y="214.2" class="tl" text-anchor="middle">0.8</text>
<text x="357.27" y="214.2" class="tl" text-anchor="middle">0.9</text>
<text x="392.13" y="214.2" class="tl" text-anchor="middle">1.0</text>
<text x="427" y="214.2" class="tl" text-anchor="middle">1.1</text>
<text x="461.87" y="214.2" class="tl" text-anchor="middle">1.2</text>
<text x="496.73" y="214.2" class="tl" text-anchor="middle">1.3</text>
<text x="531.6" y="214.2" class="tl" text-anchor="middle">1.4</text>
<text x="316.9" y="32.9" class="tl" text-anchor="end">0</text>
<text x="316.9" y="60.97" class="tl" text-anchor="end">&#8722;5</text>
<text x="316.9" y="89.03" class="tl" text-anchor="end">&#8722;10</text>
<text x="316.9" y="117.1" class="tl" text-anchor="end">&#8722;15</text>
<text x="316.9" y="145.17" class="tl" text-anchor="end">&#8722;20</text>
<text x="316.9" y="173.23" class="tl" text-anchor="end">&#8722;25</text>
<text x="316.9" y="201.3" class="tl" text-anchor="end">&#8722;30</text>
<rect x="433.2" y="132.2" width="78.4" height="62" fill="#fff" stroke="#b8b8b8" stroke-width="0.8"/>
<line x1="434.1" y1="139.2" x2="457.2" y2="139.2" stroke="#000" stroke-width="1.5" stroke-dasharray="6.4,6.4"/>
<text x="459.8" y="142.8" class="lg">D = 4.0 mm</text>
<line x1="434.1" y1="151.2" x2="457.2" y2="151.2" stroke="#e8141c" stroke-width="1.5" stroke-dasharray="4.9,2.1,1.2,2.1"/>
<text x="459.8" y="154.8" class="lg">D = 4.8 mm</text>
<line x1="434.1" y1="163.2" x2="457.2" y2="163.2" stroke="#1020e0" stroke-width="1.5" stroke-dasharray="5.9,3.2,1.6,3.2,1.6,3.2"/>
<text x="459.8" y="166.8" class="lg">D = 5.3 mm</text>
<line x1="434.1" y1="175.2" x2="457.2" y2="175.2" stroke="#2aa068" stroke-width="1.5" stroke-dasharray="3.2,2.7"/>
<text x="459.8" y="178.8" class="lg">D = 5.6 mm</text>
<line x1="434.1" y1="187.2" x2="457.2" y2="187.2" stroke="#a41ec8" stroke-width="1.6" />
<text x="459.8" y="190.8" class="lg">D = 5.8 mm</text>
<text x="427" y="21" class="ti" text-anchor="middle">Diameter (D) Variation</text>
<text x="427.3" y="235.8" class="al" text-anchor="middle">Frequency (GHz)</text>
<text transform="translate(286,112.9) rotate(-90)" class="al" text-anchor="middle">S<tspan style="font-size:9.5px" dy="2">11</tspan><tspan dy="-2"> (dB)</tspan></text>
<text x="424.3" y="271.7" class="al" text-anchor="middle">(b)</text>
<line x1="71.9" y1="309.2" x2="71.9" y2="477.4" class="gm"/>
<line x1="113.7" y1="309.2" x2="113.7" y2="477.4" class="gm"/>
<line x1="155.5" y1="309.2" x2="155.5" y2="477.4" class="gm"/>
<line x1="197.3" y1="309.2" x2="197.3" y2="477.4" class="gm"/>
<line x1="239.1" y1="309.2" x2="239.1" y2="477.4" class="gm"/>
<line x1="51" y1="323.22" x2="260" y2="323.22" class="gm"/>
<line x1="51" y1="351.25" x2="260" y2="351.25" class="gm"/>
<line x1="51" y1="379.28" x2="260" y2="379.28" class="gm"/>
<line x1="51" y1="407.32" x2="260" y2="407.32" class="gm"/>
<line x1="51" y1="435.35" x2="260" y2="435.35" class="gm"/>
<line x1="51" y1="463.38" x2="260" y2="463.38" class="gm"/>
<line x1="92.8" y1="309.2" x2="92.8" y2="477.4" class="gM"/>
<line x1="134.6" y1="309.2" x2="134.6" y2="477.4" class="gM"/>
<line x1="176.4" y1="309.2" x2="176.4" y2="477.4" class="gM"/>
<line x1="218.2" y1="309.2" x2="218.2" y2="477.4" class="gM"/>
<line x1="51" y1="337.23" x2="260" y2="337.23" class="gM"/>
<line x1="51" y1="365.27" x2="260" y2="365.27" class="gM"/>
<line x1="51" y1="393.3" x2="260" y2="393.3" class="gM"/>
<line x1="51" y1="421.33" x2="260" y2="421.33" class="gM"/>
<line x1="51" y1="449.37" x2="260" y2="449.37" class="gM"/>
<clipPath id="cc"><rect x="51" y="307" width="209" height="171"/></clipPath>
<g clip-path="url(#cc)">
<path d="M51,309.31 L51.5,309.31 L52,309.32 L52.49,309.32 L52.99,309.32 L53.49,309.32 L53.99,309.32 L54.48,309.32 L54.98,309.32 L55.48,309.32 L55.98,309.32 L56.47,309.32 L56.97,309.32 L57.47,309.32 L57.97,309.32 L58.46,309.32 L58.96,309.32 L59.46,309.32 L59.96,309.33 L60.45,309.33 L60.95,309.33 L61.45,309.33 L61.95,309.33 L62.45,309.33 L62.94,309.33 L63.44,309.33 L63.94,309.33 L64.44,309.33 L64.93,309.33 L65.43,309.33 L65.93,309.33 L66.43,309.33 L66.92,309.34 L67.42,309.34 L67.92,309.34 L68.42,309.34 L68.91,309.34 L69.41,309.34 L69.91,309.34 L70.41,309.34 L70.9,309.34 L71.4,309.34 L71.9,309.34 L72.4,309.34 L72.9,309.35 L73.39,309.35 L73.89,309.35 L74.39,309.35 L74.89,309.35 L75.38,309.35 L75.88,309.35 L76.38,309.35 L76.88,309.35 L77.37,309.35 L77.87,309.35 L78.37,309.36 L78.87,309.36 L79.36,309.36 L79.86,309.36 L80.36,309.36 L80.86,309.36 L81.35,309.36 L81.85,309.36 L82.35,309.36 L82.85,309.36 L83.35,309.37 L83.84,309.37 L84.34,309.37 L84.84,309.37 L85.34,309.37 L85.83,309.37 L86.33,309.37 L86.83,309.37 L87.33,309.37 L87.82,309.38 L88.32,309.38 L88.82,309.38 L89.32,309.38 L89.81,309.38 L90.31,309.38 L90.81,309.38 L91.31,309.38 L91.8,309.38 L92.3,309.39 L92.8,309.39 L93.3,309.39 L93.8,309.39 L94.29,309.39 L94.79,309.39 L95.29,309.39 L95.79,309.39 L96.28,309.4 L96.78,309.4 L97.28,309.4 L97.78,309.4 L98.27,309.4 L98.77,309.4 L99.27,309.4 L99.77,309.41 L100.26,309.41 L100.76,309.41 L101.26,309.41 L101.76,309.41 L102.25,309.41 L102.75,309.41 L103.25,309.42 L103.75,309.42 L104.25,309.42 L104.74,309.42 L105.24,309.42 L105.74,309.42 L106.24,309.43 L106.73,309.43 L107.23,309.43 L107.73,309.43 L108.23,309.43 L108.72,309.43 L109.22,309.44 L109.72,309.44 L110.22,309.44 L110.71,309.44 L111.21,309.44 L111.71,309.44 L112.21,309.45 L112.7,309.45 L113.2,309.45 L113.7,309.45 L114.2,309.45 L114.7,309.46 L115.19,309.46 L115.69,309.46 L116.19,309.46 L116.69,309.46 L117.18,309.47 L117.68,309.47 L118.18,309.47 L118.68,309.47 L119.17,309.48 L119.67,309.48 L120.17,309.48 L120.67,309.48 L121.16,309.48 L121.66,309.49 L122.16,309.49 L122.66,309.49 L123.15,309.49 L123.65,309.5 L124.15,309.5 L124.65,309.5 L125.15,309.5 L125.64,309.51 L126.14,309.51 L126.64,309.51 L127.14,309.51 L127.63,309.52 L128.13,309.52 L128.63,309.52 L129.13,309.53 L129.62,309.53 L130.12,309.53 L130.62,309.53 L131.12,309.54 L131.61,309.54 L132.11,309.54 L132.61,309.55 L133.11,309.55 L133.6,309.55 L134.1,309.56 L134.6,309.56 L135.1,309.56 L135.6,309.56 L136.09,309.57 L136.59,309.57 L137.09,309.58 L137.59,309.58 L138.08,309.58 L138.58,309.59 L139.08,309.59 L139.58,309.59 L140.07,309.6 L140.57,309.6 L141.07,309.6 L141.57,309.61 L142.06,309.61 L142.56,309.62 L143.06,309.62 L143.56,309.62 L144.05,309.63 L144.55,309.63 L145.05,309.64 L145.55,309.64 L146.05,309.65 L146.54,309.65 L147.04,309.66 L147.54,309.66 L148.04,309.67 L148.53,309.67 L149.03,309.67 L149.53,309.68 L150.03,309.68 L150.52,309.69 L151.02,309.7 L151.52,309.7 L152.02,309.71 L152.51,309.71 L153.01,309.72 L153.51,309.72 L154.01,309.73 L154.5,309.73 L155,309.74 L155.5,309.75 L156,309.75 L156.5,309.76 L156.99,309.76 L157.49,309.77 L157.99,309.78 L158.49,309.78 L158.98,309.79 L159.48,309.8 L159.98,309.81 L160.48,309.81 L160.97,309.82 L161.47,309.83 L161.97,309.83 L162.47,309.84 L162.96,309.85 L163.46,309.86 L163.96,309.87 L164.46,309.87 L164.95,309.88 L165.45,309.89 L165.95,309.9 L166.45,309.91 L166.95,309.92 L167.44,309.93 L167.94,309.94 L168.44,309.95 L168.94,309.95 L169.43,309.96 L169.93,309.97 L170.43,309.99 L170.93,310 L171.42,310.01 L171.92,310.02 L172.42,310.03 L172.92,310.04 L173.41,310.05 L173.91,310.06 L174.41,310.07 L174.91,310.09 L175.4,310.1 L175.9,310.11 L176.4,310.13 L176.9,310.14 L177.4,310.15 L177.89,310.17 L178.39,310.18 L178.89,310.2 L179.39,310.21 L179.88,310.23 L180.38,310.24 L180.88,310.26 L181.38,310.27 L181.87,310.29 L182.37,310.31 L182.87,310.32 L183.37,310.34 L183.86,310.36 L184.36,310.38 L184.86,310.4 L185.36,310.42 L185.85,310.44 L186.35,310.46 L186.85,310.48 L187.35,310.5 L187.85,310.52 L188.34,310.54 L188.84,310.57 L189.34,310.59 L189.84,310.62 L190.33,310.64 L190.83,310.67 L191.33,310.69 L191.83,310.72 L192.32,310.75 L192.82,310.78 L193.32,310.81 L193.82,310.84 L194.31,310.87 L194.81,310.9 L195.31,310.93 L195.81,310.96 L196.3,311 L196.8,311.03 L197.3,311.07 L197.8,311.11 L198.3,311.15 L198.79,311.19 L199.29,311.23 L199.79,311.27 L200.29,311.31 L200.78,311.36 L201.28,311.41 L201.78,311.45 L202.28,311.5 L202.77,311.55 L203.27,311.61 L203.77,311.66 L204.27,311.72 L204.76,311.78 L205.26,311.84 L205.76,311.9 L206.26,311.96 L206.75,312.03 L207.25,312.1 L207.75,312.17 L208.25,312.25 L208.75,312.32 L209.24,312.4 L209.74,312.48 L210.24,312.57 L210.74,312.66 L211.23,312.75 L211.73,312.85 L212.23,312.95 L212.73,313.05 L213.22,313.16 L213.72,313.27 L214.22,313.39 L214.72,313.51 L215.21,313.64 L215.71,313.77 L216.21,313.91 L216.71,314.06 L217.2,314.21 L217.7,314.37 L218.2,314.53 L218.7,314.71 L219.2,314.89 L219.69,315.08 L220.19,315.28 L220.69,315.48 L221.19,315.7 L221.68,315.93 L222.18,316.18 L222.68,316.43 L223.18,316.7 L223.67,316.98 L224.17,317.28 L224.67,317.59 L225.17,317.92 L225.66,318.27 L226.16,318.64 L226.66,319.03 L227.16,319.45 L227.65,319.89 L228.15,320.35 L228.65,320.85 L229.15,321.37 L229.65,321.93 L230.14,322.53 L230.64,323.16 L231.14,323.83 L231.64,324.56 L232.13,325.33 L232.63,326.15 L233.13,327.03 L233.63,327.98 L234.12,328.99 L234.62,330.08 L234.86,330.63 L235.12,331.26 L235.48,332.15 L235.62,332.52 L235.78,332.95 L236.07,333.76 L236.36,334.6 L236.61,335.35 L236.93,336.35 L237.11,336.94 L237.2,337.26 L237.48,338.2 L237.61,338.67 L237.74,339.16 L238,340.14 L238.1,340.54 L238.26,341.15 L238.51,342.18 L238.6,342.57 L238.76,343.24 L239,344.32 L239.1,344.79 L239.24,345.43 L239.47,346.57 L239.6,347.21 L239.7,347.73 L239.92,348.91 L240.1,349.86 L240.14,350.12 L240.36,351.36 L240.57,352.62 L240.78,353.91 L240.98,355.23 L241.09,355.97 L241.18,356.57 L241.37,357.93 L241.56,359.32 L241.75,360.74 L241.93,362.19 L242.09,363.46 L242.28,365.15 L242.45,366.67 L242.58,367.86 L242.62,368.22 L242.78,369.79 L242.94,371.39 L243.08,372.82 L243.25,374.66 L243.4,376.34 L243.54,378.04 L243.58,378.46 L243.68,379.76 L243.82,381.51 L243.96,383.28 L244.08,384.93 L244.21,386.91 L244.34,388.75 L244.46,390.62 L244.57,392.47 L244.69,394.43 L244.8,396.37 L244.91,398.33 L245.02,400.31 L245.07,401.39 L245.12,402.31 L245.22,404.33 L245.31,406.37 L245.41,408.43 L245.5,410.49 L245.57,412.18 L245.59,412.58 L245.67,414.67 L245.75,416.77 L245.83,418.88 L245.91,420.99 L245.98,423.1 L246.06,425.21 L246.07,425.52 L246.13,427.3 L246.19,429.39 L246.26,431.46 L246.32,433.5 L246.38,435.52 L246.44,437.5 L246.49,439.44 L246.55,441.33 L246.56,441.98 L246.6,443.17 L246.65,444.95 L246.69,446.66 L246.74,448.29 L246.78,449.85 L246.82,451.31 L246.86,452.69 L246.9,453.98 L246.94,455.17 L246.97,456.27 L247,457.27 L247.03,458.18 L247.06,459 L247.09,459.73 L247.11,460.38 L247.14,460.95 L247.16,461.44 L247.18,461.87 L247.2,462.24 L247.22,462.56 L247.24,462.82 L247.27,463.23 L247.3,463.51 L247.33,463.75 L247.39,463.94 L247.48,463.75 L247.51,463.51 L247.54,463.23 L247.58,462.83 L247.6,462.57 L247.62,462.26 L247.64,461.9 L247.66,461.47 L247.69,460.98 L247.71,460.42 L247.74,459.79 L247.77,459.07 L247.8,458.26 L247.83,457.36 L247.86,456.37 L247.9,455.29 L247.94,454.11 L247.98,452.83 L248.02,451.46 L248.06,450.14 L248.11,448.46 L248.15,446.83 L248.2,445.12 L248.25,443.35 L248.31,441.51 L248.36,439.62 L248.42,437.68 L248.48,435.69 L248.54,433.67 L248.55,433.28 L248.61,431.61 L248.67,429.54 L248.74,427.44 L248.82,425.33 L248.89,423.21 L248.97,421.08 L249.05,418.95 L249.13,416.83 L249.21,414.71 L249.3,412.6 L249.39,410.5 L249.49,408.41 L249.55,407.03 L249.58,406.33 L249.68,404.27 L249.78,402.23 L249.89,400.21 L250,398.21 L250.05,397.3 L250.11,396.22 L250.22,394.26 L250.34,392.33 L250.46,390.41 L250.55,389.12 L250.59,388.52 L250.71,386.65 L250.84,384.8 L250.98,382.98 L251.04,382.13 L251.12,381.19 L251.26,379.41 L251.4,377.67 L251.54,376.05 L251.7,374.25 L251.86,372.58 L252.02,370.94 L252.18,369.32 L252.35,367.73 L252.52,366.17 L252.69,364.63 L252.87,363.11 L253.03,361.77 L253.24,360.17 L253.43,358.73 L253.53,357.98 L253.62,357.33 L253.82,355.94 L254.02,354.59 L254.23,353.26 L254.44,351.96 L254.53,351.45 L254.66,350.69 L254.88,349.44 L255.02,348.63 L255.1,348.22 L255.33,347.02 L255.52,346.06 L255.8,344.71 L256.02,343.7 L256.29,342.5 L256.52,341.54 L256.8,340.4 L257.01,339.56 L257.32,338.4 L257.51,337.73 L257.6,337.44 L257.87,336.5 L258.01,336.05 L258.15,335.59 L258.44,334.7 L258.51,334.49 L258.73,333.84 L259,333.05 L259.32,332.19 L259.5,331.72 L259.63,331.4 L259.94,330.63 L260,330.49" class="c2" stroke="#000" stroke-dasharray="8,6"/>
<path d="M51,309.36 L51.5,309.36 L52,309.36 L52.49,309.37 L52.99,309.37 L53.49,309.37 L53.99,309.37 L54.48,309.37 L54.98,309.37 L55.48,309.37 L55.98,309.37 L56.47,309.37 L56.97,309.37 L57.47,309.38 L57.97,309.38 L58.46,309.38 L58.96,309.38 L59.46,309.38 L59.96,309.38 L60.45,309.38 L60.95,309.38 L61.45,309.38 L61.95,309.38 L62.45,309.39 L62.94,309.39 L63.44,309.39 L63.94,309.39 L64.44,309.39 L64.93,309.39 L65.43,309.39 L65.93,309.39 L66.43,309.39 L66.92,309.4 L67.42,309.4 L67.92,309.4 L68.42,309.4 L68.91,309.4 L69.41,309.4 L69.91,309.4 L70.41,309.4 L70.9,309.41 L71.4,309.41 L71.9,309.41 L72.4,309.41 L72.9,309.41 L73.39,309.41 L73.89,309.41 L74.39,309.42 L74.89,309.42 L75.38,309.42 L75.88,309.42 L76.38,309.42 L76.88,309.42 L77.37,309.42 L77.87,309.43 L78.37,309.43 L78.87,309.43 L79.36,309.43 L79.86,309.43 L80.36,309.43 L80.86,309.44 L81.35,309.44 L81.85,309.44 L82.35,309.44 L82.85,309.44 L83.35,309.44 L83.84,309.45 L84.34,309.45 L84.84,309.45 L85.34,309.45 L85.83,309.45 L86.33,309.45 L86.83,309.46 L87.33,309.46 L87.82,309.46 L88.32,309.46 L88.82,309.46 L89.32,309.47 L89.81,309.47 L90.31,309.47 L90.81,309.47 L91.31,309.47 L91.8,309.47 L92.3,309.48 L92.8,309.48 L93.3,309.48 L93.8,309.48 L94.29,309.49 L94.79,309.49 L95.29,309.49 L95.79,309.49 L96.28,309.49 L96.78,309.5 L97.28,309.5 L97.78,309.5 L98.27,309.5 L98.77,309.51 L99.27,309.51 L99.77,309.51 L100.26,309.51 L100.76,309.52 L101.26,309.52 L101.76,309.52 L102.25,309.52 L102.75,309.53 L103.25,309.53 L103.75,309.53 L104.25,309.53 L104.74,309.54 L105.24,309.54 L105.74,309.54 L106.24,309.55 L106.73,309.55 L107.23,309.55 L107.73,309.55 L108.23,309.56 L108.72,309.56 L109.22,309.56 L109.72,309.57 L110.22,309.57 L110.71,309.57 L111.21,309.58 L111.71,309.58 L112.21,309.58 L112.7,309.59 L113.2,309.59 L113.7,309.59 L114.2,309.6 L114.7,309.6 L115.19,309.6 L115.69,309.61 L116.19,309.61 L116.69,309.61 L117.18,309.62 L117.68,309.62 L118.18,309.63 L118.68,309.63 L119.17,309.63 L119.67,309.64 L120.17,309.64 L120.67,309.65 L121.16,309.65 L121.66,309.66 L122.16,309.66 L122.66,309.67 L123.15,309.67 L123.65,309.67 L124.15,309.68 L124.65,309.68 L125.15,309.69 L125.64,309.69 L126.14,309.7 L126.64,309.7 L127.14,309.71 L127.63,309.71 L128.13,309.72 L128.63,309.72 L129.13,309.73 L129.62,309.74 L130.12,309.74 L130.62,309.75 L131.12,309.75 L131.61,309.76 L132.11,309.77 L132.61,309.77 L133.11,309.78 L133.6,309.78 L134.1,309.79 L134.6,309.8 L135.1,309.8 L135.6,309.81 L136.09,309.82 L136.59,309.83 L137.09,309.83 L137.59,309.84 L138.08,309.85 L138.58,309.86 L139.08,309.86 L139.58,309.87 L140.07,309.88 L140.57,309.89 L141.07,309.9 L141.57,309.9 L142.06,309.91 L142.56,309.92 L143.06,309.93 L143.56,309.94 L144.05,309.95 L144.55,309.96 L145.05,309.97 L145.55,309.98 L146.05,309.99 L146.54,310 L147.04,310.01 L147.54,310.02 L148.04,310.03 L148.53,310.04 L149.03,310.05 L149.53,310.07 L150.03,310.08 L150.52,310.09 L151.02,310.1 L151.52,310.11 L152.02,310.13 L152.51,310.14 L153.01,310.15 L153.51,310.17 L154.01,310.18 L154.5,310.2 L155,310.21 L155.5,310.23 L156,310.24 L156.5,310.26 L156.99,310.27 L157.49,310.29 L157.99,310.31 L158.49,310.32 L158.98,310.34 L159.48,310.36 L159.98,310.38 L160.48,310.4 L160.97,310.42 L161.47,310.44 L161.97,310.46 L162.47,310.48 L162.96,310.5 L163.46,310.52 L163.96,310.55 L164.46,310.57 L164.95,310.59 L165.45,310.62 L165.95,310.64 L166.45,310.67 L166.95,310.7 L167.44,310.72 L167.94,310.75 L168.44,310.78 L168.94,310.81 L169.43,310.84 L169.93,310.88 L170.43,310.91 L170.93,310.94 L171.42,310.98 L171.92,311.01 L172.42,311.05 L172.92,311.09 L173.41,311.13 L173.91,311.17 L174.41,311.21 L174.91,311.25 L175.4,311.3 L175.9,311.34 L176.4,311.39 L176.9,311.44 L177.4,311.49 L177.89,311.54 L178.39,311.6 L178.89,311.66 L179.39,311.71 L179.88,311.78 L180.38,311.84 L180.88,311.9 L181.38,311.97 L181.87,312.04 L182.37,312.12 L182.87,312.19 L183.37,312.27 L183.86,312.36 L184.36,312.44 L184.86,312.53 L185.36,312.62 L185.85,312.72 L186.35,312.82 L186.85,312.93 L187.35,313.04 L187.85,313.16 L188.34,313.28 L188.84,313.4 L189.34,313.54 L189.84,313.68 L190.33,313.82 L190.83,313.98 L191.33,314.14 L191.83,314.31 L192.32,314.49 L192.82,314.67 L193.32,314.87 L193.82,315.08 L194.31,315.3 L194.81,315.53 L195.31,315.78 L195.81,316.04 L196.3,316.32 L196.8,316.61 L197.3,316.92 L197.8,317.25 L198.3,317.6 L198.79,317.98 L199.29,318.38 L199.79,318.81 L200.29,319.27 L200.78,319.76 L201.28,320.29 L201.78,320.85 L202.28,321.46 L202.77,322.12 L203.27,322.83 L203.77,323.59 L204.12,324.17 L204.27,324.42 L204.43,324.7 L204.73,325.25 L205.02,325.82 L205.26,326.3 L205.6,327.01 L205.76,327.37 L205.88,327.64 L206.15,328.29 L206.26,328.54 L206.43,328.95 L206.69,329.64 L206.95,330.35 L207.21,331.08 L207.46,331.83 L207.71,332.61 L207.95,333.4 L208.19,334.23 L208.25,334.44 L208.42,335.07 L208.65,335.94 L208.75,336.32 L208.87,336.83 L209.09,337.75 L209.24,338.4 L209.31,338.69 L209.52,339.66 L209.73,340.65 L209.93,341.67 L210.13,342.71 L210.24,343.31 L210.32,343.78 L210.51,344.87 L210.7,345.99 L210.74,346.22 L210.88,347.14 L211.06,348.31 L211.23,349.51 L211.4,350.74 L211.57,351.99 L211.73,353.24 L211.89,354.57 L212.05,355.91 L212.2,357.27 L212.23,357.52 L212.35,358.65 L212.49,360.06 L212.63,361.5 L212.73,362.47 L212.77,362.96 L212.91,364.45 L213.04,365.97 L213.16,367.51 L213.22,368.25 L213.29,369.08 L213.41,370.67 L213.53,372.29 L213.64,373.93 L213.72,375.12 L213.75,375.6 L213.86,377.28 L213.97,379 L214.07,380.73 L214.17,382.49 L214.22,383.43 L214.26,384.26 L214.36,386.06 L214.45,387.87 L214.54,389.7 L214.62,391.55 L214.7,393.41 L214.72,393.73 L214.78,395.28 L214.86,397.17 L214.93,399.06 L215.01,400.95 L215.08,402.85 L215.14,404.75 L215.21,406.64 L215.27,408.53 L215.33,410.4 L215.39,412.25 L215.44,414.09 L215.5,415.89 L215.55,417.67 L215.6,419.4 L215.64,421.09 L215.69,422.74 L215.71,423.59 L215.73,424.32 L215.77,425.85 L215.81,427.31 L215.85,428.7 L215.89,430.02 L215.92,431.25 L215.95,432.41 L215.98,433.48 L216.01,434.47 L216.04,435.37 L216.06,436.2 L216.09,436.94 L216.11,437.61 L216.13,438.2 L216.15,438.73 L216.17,439.18 L216.19,439.58 L216.21,439.93 L216.22,440.22 L216.24,440.47 L216.26,440.86 L216.28,441.12 L216.31,441.35 L216.42,441.11 L216.44,440.85 L216.46,440.47 L216.48,440.22 L216.49,439.92 L216.51,439.57 L216.53,439.17 L216.55,438.71 L216.57,438.19 L216.59,437.59 L216.61,436.92 L216.64,436.18 L216.66,435.35 L216.69,434.44 L216.71,433.81 L216.72,433.45 L216.75,432.37 L216.78,431.21 L216.81,429.97 L216.85,428.66 L216.89,427.26 L216.93,425.8 L216.97,424.27 L217.01,422.68 L217.06,421.04 L217.1,419.34 L217.15,417.61 L217.2,415.83 L217.26,414.02 L217.31,412.19 L217.37,410.33 L217.43,408.46 L217.49,406.57 L217.56,404.68 L217.62,402.78 L217.69,400.88 L217.77,398.99 L217.84,397.1 L217.92,395.21 L218,393.34 L218.08,391.48 L218.16,389.63 L218.2,388.88 L218.25,387.8 L218.34,385.99 L218.44,384.19 L218.53,382.42 L218.63,380.66 L218.7,379.54 L218.73,378.93 L218.84,377.22 L218.95,375.53 L219.06,373.87 L219.17,372.22 L219.2,371.91 L219.29,370.61 L219.41,369.02 L219.54,367.45 L219.66,365.91 L219.69,365.56 L219.79,364.39 L219.93,362.91 L220.07,361.44 L220.19,360.17 L220.35,358.59 L220.5,357.21 L220.65,355.85 L220.69,355.53 L220.81,354.52 L220.97,353.22 L221.13,351.94 L221.19,351.5 L221.3,350.69 L221.47,349.46 L221.64,348.26 L221.68,347.98 L221.82,347.09 L222,345.95 L222.18,344.86 L222.38,343.73 L222.57,342.67 L222.68,342.1 L222.77,341.62 L222.97,340.61 L223.18,339.64 L223.39,338.65 L223.61,337.71 L223.67,337.43 L223.83,336.79 L224.05,335.9 L224.17,335.44 L224.28,335.04 L224.51,334.19 L224.67,333.65 L224.75,333.37 L224.99,332.58 L225.17,332.03 L225.24,331.8 L225.49,331.05 L225.66,330.55 L225.75,330.32 L226.01,329.61 L226.16,329.21 L226.27,328.93 L226.55,328.26 L226.66,327.99 L226.82,327.62 L227.1,326.99 L227.39,326.39 L227.65,325.84 L227.97,325.23 L228.15,324.9 L228.27,324.68 L228.58,324.15 L228.89,323.64 L229.15,323.23 L229.65,322.49 L230.14,321.81 L230.64,321.17 L231.14,320.59 L231.64,320.04 L232.13,319.53 L232.63,319.05 L233.13,318.61 L233.63,318.19 L234.12,317.8 L234.62,317.44 L235.12,317.1 L235.62,316.77 L236.11,316.47 L236.61,316.19 L237.11,315.92 L237.61,315.66 L238.1,315.42 L238.6,315.2 L239.1,314.98 L239.6,314.78 L240.1,314.58 L240.59,314.4 L241.09,314.23 L241.59,314.06 L242.09,313.9 L242.58,313.75 L243.08,313.61 L243.58,313.47 L244.08,313.34 L244.57,313.22 L245.07,313.1 L245.57,312.99 L246.07,312.88 L246.56,312.77 L247.06,312.67 L247.56,312.58 L248.06,312.49 L248.55,312.4 L249.05,312.32 L249.55,312.23 L250.05,312.16 L250.55,312.08 L251.04,312.01 L251.54,311.94 L252.04,311.87 L252.54,311.81 L253.03,311.75 L253.53,311.69 L254.03,311.63 L254.53,311.57 L255.02,311.52 L255.52,311.47 L256.02,311.42 L256.52,311.37 L257.01,311.32 L257.51,311.28 L258.01,311.23 L258.51,311.19 L259,311.15 L259.5,311.11 L260,311.07" class="c2" stroke="#e8141c" stroke-dasharray="7.4,4.3,2.5,4.3,2.5,4.3"/>
<path d="M51,309.41 L51.5,309.41 L52,309.41 L52.49,309.42 L52.99,309.42 L53.49,309.42 L53.99,309.43 L54.48,309.43 L54.98,309.43 L55.48,309.44 L55.98,309.44 L56.47,309.44 L56.97,309.44 L57.47,309.45 L57.97,309.45 L58.46,309.45 L58.96,309.46 L59.46,309.46 L59.96,309.47 L60.45,309.47 L60.95,309.47 L61.45,309.48 L61.95,309.48 L62.45,309.49 L62.94,309.49 L63.44,309.49 L63.94,309.5 L64.44,309.5 L64.93,309.51 L65.43,309.51 L65.93,309.52 L66.43,309.52 L66.92,309.53 L67.42,309.53 L67.92,309.54 L68.42,309.54 L68.91,309.55 L69.41,309.55 L69.91,309.56 L70.41,309.57 L70.9,309.57 L71.4,309.58 L71.9,309.59 L72.4,309.59 L72.9,309.6 L73.39,309.61 L73.89,309.61 L74.39,309.62 L74.89,309.63 L75.38,309.64 L75.88,309.64 L76.38,309.65 L76.88,309.66 L77.37,309.67 L77.87,309.68 L78.37,309.69 L78.87,309.7 L79.36,309.71 L79.86,309.72 L80.36,309.73 L80.86,309.74 L81.35,309.75 L81.85,309.76 L82.35,309.77 L82.85,309.79 L83.35,309.8 L83.84,309.81 L84.34,309.83 L84.84,309.84 L85.34,309.85 L85.83,309.87 L86.33,309.89 L86.83,309.9 L87.33,309.92 L87.82,309.94 L88.32,309.95 L88.82,309.97 L89.32,309.99 L89.81,310.01 L90.31,310.03 L90.81,310.05 L91.31,310.08 L91.8,310.1 L92.3,310.13 L92.8,310.15 L93.3,310.18 L93.8,310.2 L94.29,310.23 L94.79,310.26 L95.29,310.3 L95.79,310.33 L96.28,310.36 L96.78,310.4 L97.28,310.44 L97.78,310.48 L98.27,310.52 L98.77,310.56 L99.27,310.61 L99.77,310.66 L100.26,310.71 L100.76,310.76 L101.26,310.82 L101.76,310.88 L102.25,310.94 L102.75,311.01 L103.25,311.08 L103.75,311.16 L104.25,311.24 L104.74,311.32 L105.24,311.41 L105.74,311.51 L106.24,311.61 L106.73,311.72 L107.23,311.84 L107.73,311.96 L108.23,312.1 L108.72,312.24 L109.22,312.4 L109.72,312.57 L110.22,312.75 L110.71,312.95 L111.21,313.17 L111.71,313.4 L112.21,313.65 L112.7,313.93 L113.2,314.24 L113.7,314.57 L114.06,314.84 L114.37,315.08 L114.68,315.34 L114.98,315.6 L115.19,315.8 L115.56,316.17 L115.69,316.31 L115.85,316.48 L116.13,316.8 L116.4,317.13 L116.68,317.48 L116.94,317.85 L117.18,318.2 L117.46,318.63 L117.68,319 L117.96,319.48 L118.18,319.9 L118.44,320.42 L118.67,320.91 L118.9,321.43 L119.12,321.98 L119.34,322.54 L119.56,323.13 L119.67,323.45 L119.77,323.74 L119.98,324.38 L120.17,325.02 L120.38,325.74 L120.57,326.47 L120.67,326.83 L120.76,327.21 L120.95,327.99 L121.13,328.8 L121.31,329.64 L121.48,330.51 L121.65,331.41 L121.82,332.35 L121.98,333.31 L122.14,334.31 L122.3,335.34 L122.45,336.41 L122.6,337.51 L122.66,337.96 L122.74,338.64 L122.88,339.81 L123.02,341.01 L123.15,342.23 L123.29,343.51 L123.41,344.81 L123.54,346.14 L123.65,347.43 L123.78,348.9 L123.89,350.33 L124,351.79 L124.11,353.28 L124.15,353.83 L124.22,354.79 L124.32,356.34 L124.42,357.9 L124.51,359.5 L124.61,361.11 L124.65,361.83 L124.7,362.74 L124.79,364.4 L124.87,366.07 L124.95,367.75 L125.03,369.44 L125.11,371.14 L125.15,371.94 L125.18,372.84 L125.26,374.54 L125.33,376.24 L125.39,377.93 L125.46,379.61 L125.52,381.27 L125.58,382.9 L125.64,384.52 L125.69,386.09 L125.75,387.63 L125.8,389.13 L125.85,390.58 L125.89,391.98 L125.94,393.32 L125.98,394.6 L126.02,395.81 L126.06,396.95 L126.1,398.03 L126.14,399.03 L126.17,399.96 L126.2,400.81 L126.23,401.59 L126.26,402.31 L126.29,402.95 L126.31,403.53 L126.34,404.04 L126.36,404.5 L126.38,404.9 L126.4,405.25 L126.42,405.55 L126.44,405.82 L126.47,406.23 L126.5,406.52 L126.53,406.79 L126.58,407.01 L126.67,406.79 L126.7,406.52 L126.73,406.23 L126.76,405.81 L126.78,405.55 L126.8,405.25 L126.82,404.9 L126.84,404.5 L126.86,404.04 L126.89,403.53 L126.91,402.96 L126.94,402.32 L126.97,401.61 L127,400.83 L127.03,399.98 L127.06,399.06 L127.1,398.06 L127.14,397.05 L127.18,395.86 L127.22,394.66 L127.26,393.39 L127.31,392.06 L127.35,390.67 L127.4,389.23 L127.45,387.74 L127.51,386.21 L127.56,384.65 L127.62,383.04 L127.63,382.69 L127.68,381.42 L127.74,379.77 L127.81,378.1 L127.87,376.42 L127.94,374.73 L128.02,373.04 L128.09,371.35 L128.13,370.45 L128.17,369.66 L128.25,367.97 L128.33,366.3 L128.41,364.64 L128.5,362.99 L128.59,361.37 L128.63,360.74 L128.69,359.76 L128.78,358.17 L128.88,356.61 L128.98,355.07 L129.09,353.56 L129.13,353.04 L129.2,352.07 L129.31,350.62 L129.42,349.19 L129.54,347.8 L129.62,346.85 L129.66,346.43 L129.79,345.1 L129.91,343.8 L130.04,342.53 L130.12,341.81 L130.18,341.3 L130.32,340.1 L130.46,338.93 L130.6,337.8 L130.75,336.7 L130.9,335.63 L131.06,334.6 L131.12,334.21 L131.22,333.6 L131.38,332.63 L131.55,331.69 L131.61,331.32 L131.72,330.79 L131.89,329.91 L132.07,329.07 L132.25,328.26 L132.44,327.47 L132.61,326.79 L132.82,325.99 L133.02,325.3 L133.11,325 L133.22,324.62 L133.43,323.98 L133.6,323.46 L133.86,322.77 L134.08,322.19 L134.3,321.65 L134.53,321.12 L134.76,320.62 L135,320.14 L135.1,319.95 L135.24,319.68 L135.49,319.24 L135.6,319.06 L135.74,318.81 L136,318.41 L136.26,318.02 L136.52,317.65 L136.8,317.3 L137.07,316.96 L137.35,316.63 L137.59,316.38 L137.93,316.03 L138.08,315.87 L138.22,315.74 L138.52,315.47 L138.83,315.21 L139.08,315.01 L139.58,314.64 L140.07,314.31 L140.57,314 L141.07,313.72 L141.57,313.47 L142.06,313.23 L142.56,313.01 L143.06,312.81 L143.56,312.63 L144.05,312.46 L144.55,312.3 L145.05,312.15 L145.55,312.02 L146.05,311.89 L146.54,311.77 L147.04,311.66 L147.54,311.56 L148.04,311.46 L148.53,311.37 L149.03,311.28 L149.53,311.2 L150.03,311.12 L150.52,311.05 L151.02,310.98 L151.52,310.92 L152.02,310.86 L152.51,310.8 L153.01,310.75 L153.51,310.69 L154.01,310.64 L154.5,310.6 L155,310.55 L155.5,310.51 L156,310.47 L156.5,310.43 L156.99,310.39 L157.49,310.36 L157.99,310.32 L158.49,310.29 L158.98,310.26 L159.48,310.23 L159.98,310.2 L160.48,310.18 L160.97,310.15 L161.47,310.13 L161.97,310.1 L162.47,310.08 L162.96,310.06 L163.46,310.03 L163.96,310.01 L164.46,309.99 L164.95,309.98 L165.45,309.96 L165.95,309.94 L166.45,309.92 L166.95,309.91 L167.44,309.89 L167.94,309.87 L168.44,309.86 L168.94,309.85 L169.43,309.83 L169.93,309.82 L170.43,309.8 L170.93,309.79 L171.42,309.78 L171.92,309.77 L172.42,309.76 L172.92,309.75 L173.41,309.73 L173.91,309.72 L174.41,309.71 L174.91,309.7 L175.4,309.69 L175.9,309.69 L176.4,309.68 L176.9,309.67 L177.4,309.66 L177.89,309.65 L178.39,309.64 L178.89,309.63 L179.39,309.63 L179.88,309.62 L180.38,309.61 L180.88,309.61 L181.38,309.6 L181.87,309.59 L182.37,309.59 L182.87,309.58 L183.37,309.57 L183.86,309.57 L184.36,309.56 L184.86,309.55 L185.36,309.55 L185.85,309.54 L186.35,309.54 L186.85,309.53 L187.35,309.53 L187.85,309.52 L188.34,309.52 L188.84,309.51 L189.34,309.51 L189.84,309.5 L190.33,309.5 L190.83,309.5 L191.33,309.49 L191.83,309.49 L192.32,309.48 L192.82,309.48 L193.32,309.47 L193.82,309.47 L194.31,309.47 L194.81,309.46 L195.31,309.46 L195.81,309.46 L196.3,309.45 L196.8,309.45 L197.3,309.45 L197.8,309.44 L198.3,309.44 L198.79,309.44 L199.29,309.43 L199.79,309.43 L200.29,309.43 L200.78,309.43 L201.28,309.42 L201.78,309.42 L202.28,309.42 L202.77,309.41 L203.27,309.41 L203.77,309.41 L204.27,309.41 L204.76,309.4 L205.26,309.4 L205.76,309.4 L206.26,309.4 L206.75,309.39 L207.25,309.39 L207.75,309.39 L208.25,309.39 L208.75,309.39 L209.24,309.38 L209.74,309.38 L210.24,309.38 L210.74,309.38 L211.23,309.38 L211.73,309.37 L212.23,309.37 L212.73,309.37 L213.22,309.37 L213.72,309.37 L214.22,309.36 L214.72,309.36 L215.21,309.36 L215.71,309.36 L216.21,309.36 L216.71,309.36 L217.2,309.35 L217.7,309.35 L218.2,309.35 L218.7,309.35 L219.2,309.35 L219.69,309.35 L220.19,309.35 L220.69,309.34 L221.19,309.34 L221.68,309.34 L222.18,309.34 L222.68,309.34 L223.18,309.34 L223.67,309.34 L224.17,309.33 L224.67,309.33 L225.17,309.33 L225.66,309.33 L226.16,309.33 L226.66,309.33 L227.16,309.33 L227.65,309.33 L228.15,309.32 L228.65,309.32 L229.15,309.32 L229.65,309.32 L230.14,309.32 L230.64,309.32 L231.14,309.32 L231.64,309.32 L232.13,309.32 L232.63,309.31 L233.13,309.31 L233.63,309.31 L234.12,309.31 L234.62,309.31 L235.12,309.31 L235.62,309.31 L236.11,309.31 L236.61,309.31 L237.11,309.31 L237.61,309.31 L238.1,309.3 L238.6,309.3 L239.1,309.3 L239.6,309.3 L240.1,309.3 L240.59,309.3 L241.09,309.3 L241.59,309.3 L242.09,309.3 L242.58,309.3 L243.08,309.3 L243.58,309.3 L244.08,309.29 L244.57,309.29 L245.07,309.29 L245.57,309.29 L246.07,309.29 L246.56,309.29 L247.06,309.29 L247.56,309.29 L248.06,309.29 L248.55,309.29 L249.05,309.29 L249.55,309.29 L250.05,309.29 L250.55,309.29 L251.04,309.28 L251.54,309.28 L252.04,309.28 L252.54,309.28 L253.03,309.28 L253.53,309.28 L254.03,309.28 L254.53,309.28 L255.02,309.28 L255.52,309.28 L256.02,309.28 L256.52,309.28 L257.01,309.28 L257.51,309.28 L258.01,309.28 L258.51,309.28 L259,309.28 L259.5,309.27 L260,309.27" class="c2" stroke="#1020e8"/>
</g>
<path d="M51,477.4v3 M51,309.2v2.5 M92.8,477.4v3 M92.8,309.2v2.5 M134.6,477.4v3 M134.6,309.2v2.5 M176.4,477.4v3 M176.4,309.2v2.5 M218.2,477.4v3 M218.2,309.2v2.5 M260,477.4v3 M260,309.2v2.5 M71.9,477.4v1.8 M71.9,309.2v1.5 M113.7,477.4v1.8 M113.7,309.2v1.5 M155.5,477.4v1.8 M155.5,309.2v1.5 M197.3,477.4v1.8 M197.3,309.2v1.5 M239.1,477.4v1.8 M239.1,309.2v1.5 M51,309.2h-3 M260,309.2h-2.5 M51,337.23h-3 M260,337.23h-2.5 M51,365.27h-3 M260,365.27h-2.5 M51,393.3h-3 M260,393.3h-2.5 M51,421.33h-3 M260,421.33h-2.5 M51,449.37h-3 M260,449.37h-2.5 M51,477.4h-3 M260,477.4h-2.5 M51,323.22h-1.8 M260,323.22h-1.5 M51,351.25h-1.8 M260,351.25h-1.5 M51,379.28h-1.8 M260,379.28h-1.5 M51,407.32h-1.8 M260,407.32h-1.5 M51,435.35h-1.8 M260,435.35h-1.5 M51,463.38h-1.8 M260,463.38h-1.5" class="tk"/>
<rect x="51" y="309.2" width="209" height="168.2" class="box"/>
<text x="51" y="493.8" class="tl" text-anchor="middle">0.9</text>
<text x="92.8" y="493.8" class="tl" text-anchor="middle">1.0</text>
<text x="134.6" y="493.8" class="tl" text-anchor="middle">1.1</text>
<text x="176.4" y="493.8" class="tl" text-anchor="middle">1.2</text>
<text x="218.2" y="493.8" class="tl" text-anchor="middle">1.3</text>
<text x="260" y="493.8" class="tl" text-anchor="middle">1.4</text>
<text x="45.5" y="313.1" class="tl" text-anchor="end">0</text>
<text x="45.5" y="341.13" class="tl" text-anchor="end">&#8722;5</text>
<text x="45.5" y="369.17" class="tl" text-anchor="end">&#8722;10</text>
<text x="45.5" y="397.2" class="tl" text-anchor="end">&#8722;15</text>
<text x="45.5" y="425.23" class="tl" text-anchor="end">&#8722;20</text>
<text x="45.5" y="453.27" class="tl" text-anchor="end">&#8722;25</text>
<text x="45.5" y="481.3" class="tl" text-anchor="end">&#8722;30</text>
<rect x="53.3" y="433.3" width="85.7" height="38.5" fill="#fff" stroke="#b8b8b8" stroke-width="0.8"/>
<line x1="55.5" y1="440.9" x2="78.8" y2="440.9" stroke="#000" stroke-width="2" stroke-dasharray="8.2,8.3"/>
<text x="80.9" y="444.5" class="lg">S2 = 3.0 mm</text>
<line x1="55.5" y1="452.7" x2="78.8" y2="452.7" stroke="#e8141c" stroke-width="2" stroke-dasharray="7.4,4.4,2.6,4.3,2.5,4.3"/>
<text x="80.9" y="456.3" class="lg">S2 = 2.5 mm</text>
<line x1="55.5" y1="464.5" x2="78.8" y2="464.5" stroke="#1020e8" stroke-width="2" />
<text x="80.9" y="468.1" class="lg">S2 = 1.5 mm</text>
<text x="155.5" y="300.5" class="ti" text-anchor="middle">Pitch Length (S2) Variation</text>
<text x="155.4" y="516.3" class="al" text-anchor="middle">Frequency (GHz)</text>
<text transform="translate(14.6,392.8) rotate(-90)" class="al" text-anchor="middle">S<tspan style="font-size:9.5px" dy="2">11</tspan><tspan dy="-2"> (dB)</tspan></text>
<text x="148.3" y="552.7" class="al" text-anchor="middle">(c)</text>
<line x1="348.65" y1="310.3" x2="348.65" y2="478.9" class="gm"/>
<line x1="401.15" y1="310.3" x2="401.15" y2="478.9" class="gm"/>
<line x1="453.65" y1="310.3" x2="453.65" y2="478.9" class="gm"/>
<line x1="506.15" y1="310.3" x2="506.15" y2="478.9" class="gm"/>
<line x1="322.4" y1="322.34" x2="532.4" y2="322.34" class="gm"/>
<line x1="322.4" y1="346.43" x2="532.4" y2="346.43" class="gm"/>
<line x1="322.4" y1="370.51" x2="532.4" y2="370.51" class="gm"/>
<line x1="322.4" y1="394.6" x2="532.4" y2="394.6" class="gm"/>
<line x1="322.4" y1="418.69" x2="532.4" y2="418.69" class="gm"/>
<line x1="322.4" y1="442.77" x2="532.4" y2="442.77" class="gm"/>
<line x1="322.4" y1="466.86" x2="532.4" y2="466.86" class="gm"/>
<line x1="374.9" y1="310.3" x2="374.9" y2="478.9" class="gM"/>
<line x1="427.4" y1="310.3" x2="427.4" y2="478.9" class="gM"/>
<line x1="479.9" y1="310.3" x2="479.9" y2="478.9" class="gM"/>
<line x1="322.4" y1="334.39" x2="532.4" y2="334.39" class="gM"/>
<line x1="322.4" y1="358.47" x2="532.4" y2="358.47" class="gM"/>
<line x1="322.4" y1="382.56" x2="532.4" y2="382.56" class="gM"/>
<line x1="322.4" y1="406.64" x2="532.4" y2="406.64" class="gM"/>
<line x1="322.4" y1="430.73" x2="532.4" y2="430.73" class="gM"/>
<line x1="322.4" y1="454.81" x2="532.4" y2="454.81" class="gM"/>
<clipPath id="cd"><rect x="322.4" y="308" width="210" height="171"/></clipPath>
<g clip-path="url(#cd)">
<path d="M322.4,311.26 L322.9,311.26 L323.4,311.27 L323.9,311.28 L324.4,311.28 L324.9,311.29 L325.4,311.29 L325.9,311.3 L326.4,311.3 L326.9,311.31 L327.4,311.31 L327.9,311.32 L328.4,311.32 L328.9,311.33 L329.4,311.34 L329.9,311.34 L330.4,311.35 L330.9,311.35 L331.4,311.36 L331.9,311.37 L332.4,311.37 L332.9,311.38 L333.4,311.38 L333.9,311.39 L334.4,311.4 L334.9,311.4 L335.4,311.41 L335.9,311.42 L336.4,311.42 L336.9,311.43 L337.4,311.44 L337.9,311.44 L338.4,311.45 L338.9,311.46 L339.4,311.46 L339.9,311.47 L340.4,311.48 L340.9,311.48 L341.4,311.49 L341.9,311.5 L342.4,311.5 L342.9,311.51 L343.4,311.52 L343.9,311.53 L344.4,311.53 L344.9,311.54 L345.4,311.55 L345.9,311.56 L346.4,311.56 L346.9,311.57 L347.4,311.58 L347.9,311.59 L348.4,311.6 L348.9,311.6 L349.4,311.61 L349.9,311.62 L350.4,311.63 L350.9,311.64 L351.4,311.65 L351.9,311.66 L352.4,311.66 L352.9,311.67 L353.4,311.68 L353.9,311.69 L354.4,311.7 L354.9,311.71 L355.4,311.72 L355.9,311.73 L356.4,311.74 L356.9,311.75 L357.4,311.76 L357.9,311.77 L358.4,311.78 L358.9,311.78 L359.4,311.79 L359.9,311.8 L360.4,311.82 L360.9,311.83 L361.4,311.84 L361.9,311.85 L362.4,311.86 L362.9,311.87 L363.4,311.88 L363.9,311.89 L364.4,311.9 L364.9,311.91 L365.4,311.92 L365.9,311.93 L366.4,311.95 L366.9,311.96 L367.4,311.97 L367.9,311.98 L368.4,311.99 L368.9,312.01 L369.4,312.02 L369.9,312.03 L370.4,312.04 L370.9,312.05 L371.4,312.07 L371.9,312.08 L372.4,312.09 L372.9,312.11 L373.4,312.12 L373.9,312.13 L374.4,312.15 L374.9,312.16 L375.4,312.18 L375.9,312.19 L376.4,312.2 L376.9,312.22 L377.4,312.23 L377.9,312.25 L378.4,312.26 L378.9,312.28 L379.4,312.29 L379.9,312.31 L380.4,312.32 L380.9,312.34 L381.4,312.36 L381.9,312.37 L382.4,312.39 L382.9,312.41 L383.4,312.42 L383.9,312.44 L384.4,312.46 L384.9,312.47 L385.4,312.49 L385.9,312.51 L386.4,312.53 L386.9,312.55 L387.4,312.56 L387.9,312.58 L388.4,312.6 L388.9,312.62 L389.4,312.64 L389.9,312.66 L390.4,312.68 L390.9,312.7 L391.4,312.72 L391.9,312.74 L392.4,312.76 L392.9,312.78 L393.4,312.8 L393.9,312.83 L394.4,312.85 L394.9,312.87 L395.4,312.89 L395.9,312.92 L396.4,312.94 L396.9,312.96 L397.4,312.99 L397.9,313.01 L398.4,313.04 L398.9,313.06 L399.4,313.09 L399.9,313.11 L400.4,313.14 L400.9,313.16 L401.4,313.19 L401.9,313.22 L402.4,313.24 L402.9,313.27 L403.4,313.3 L403.9,313.33 L404.4,313.36 L404.9,313.39 L405.4,313.42 L405.9,313.45 L406.4,313.48 L406.9,313.51 L407.4,313.54 L407.9,313.57 L408.4,313.6 L408.9,313.64 L409.4,313.67 L409.9,313.7 L410.4,313.74 L410.9,313.77 L411.4,313.81 L411.9,313.84 L412.4,313.88 L412.9,313.92 L413.4,313.95 L413.9,313.99 L414.4,314.03 L414.9,314.07 L415.4,314.11 L415.9,314.15 L416.4,314.19 L416.9,314.23 L417.4,314.28 L417.9,314.32 L418.4,314.36 L418.9,314.41 L419.4,314.45 L419.9,314.5 L420.4,314.55 L420.9,314.59 L421.4,314.64 L421.9,314.69 L422.4,314.74 L422.9,314.79 L423.4,314.84 L423.9,314.9 L424.4,314.95 L424.9,315 L425.4,315.06 L425.9,315.12 L426.4,315.17 L426.9,315.23 L427.4,315.29 L427.9,315.35 L428.4,315.41 L428.9,315.48 L429.4,315.54 L429.9,315.6 L430.4,315.67 L430.9,315.74 L431.4,315.8 L431.9,315.87 L432.4,315.95 L432.9,316.02 L433.4,316.09 L433.9,316.17 L434.4,316.24 L434.9,316.32 L435.4,316.4 L435.9,316.48 L436.4,316.56 L436.9,316.65 L437.4,316.73 L437.9,316.82 L438.4,316.91 L438.9,317 L439.4,317.09 L439.9,317.19 L440.4,317.28 L440.9,317.38 L441.4,317.48 L441.9,317.58 L442.4,317.69 L442.9,317.8 L443.4,317.9 L443.9,318.02 L444.4,318.13 L444.9,318.24 L445.4,318.36 L445.9,318.48 L446.4,318.61 L446.9,318.73 L447.4,318.86 L447.9,319 L448.4,319.13 L448.9,319.27 L449.4,319.41 L449.9,319.55 L450.4,319.7 L450.9,319.85 L451.4,320.01 L451.9,320.17 L452.4,320.33 L452.9,320.49 L453.4,320.66 L453.9,320.84 L454.4,321.01 L454.9,321.2 L455.4,321.38 L455.9,321.57 L456.4,321.77 L456.9,321.97 L457.4,322.17 L457.9,322.38 L458.4,322.6 L458.9,322.82 L459.4,323.05 L459.9,323.28 L460.4,323.52 L460.9,323.77 L461.4,324.02 L461.9,324.28 L462.4,324.54 L462.9,324.81 L463.4,325.09 L463.9,325.38 L464.4,325.68 L464.9,325.98 L465.4,326.29 L465.9,326.61 L466.4,326.94 L466.9,327.28 L467.4,327.63 L467.9,327.99 L468.35,328.32 L468.9,328.73 L469.13,328.91 L469.4,329.13 L469.9,329.53 L470.4,329.94 L470.65,330.16 L470.9,330.37 L471.4,330.81 L471.9,331.26 L472.13,331.47 L472.4,331.73 L472.84,332.16 L473.4,332.71 L473.55,332.86 L473.9,333.23 L474.24,333.59 L474.4,333.76 L474.9,334.31 L475.4,334.87 L475.59,335.09 L475.9,335.45 L476.24,335.87 L476.4,336.06 L476.89,336.67 L477.4,337.33 L477.52,337.48 L477.9,338 L478.14,338.32 L478.4,338.69 L478.75,339.18 L478.9,339.4 L479.34,340.06 L479.9,340.91 L480.4,341.71 L480.51,341.88 L480.9,342.54 L481.07,342.82 L481.4,343.39 L481.62,343.78 L481.9,344.28 L482.16,344.76 L482.4,345.21 L482.69,345.77 L482.9,346.17 L483.21,346.79 L483.4,347.17 L483.72,347.83 L483.9,348.21 L484.22,348.9 L484.4,349.29 L484.71,349.98 L484.9,350.42 L485.19,351.09 L485.4,351.6 L485.66,352.22 L485.9,352.83 L486.11,353.37 L486.4,354.12 L486.56,354.54 L486.9,355.46 L487,355.74 L487.4,356.87 L487.85,358.19 L488.26,359.44 L488.4,359.9 L488.66,360.72 L488.9,361.53 L489.05,362.02 L489.4,363.25 L489.8,364.69 L489.9,365.06 L490.16,366.06 L490.4,366.98 L490.52,367.44 L490.86,368.85 L491.2,370.28 L491.4,371.16 L491.53,371.73 L491.85,373.21 L491.9,373.45 L492.16,374.7 L492.4,375.9 L492.46,376.22 L492.76,377.75 L492.9,378.51 L493.05,379.31 L493.33,380.89 L493.4,381.32 L493.6,382.49 L493.86,384.11 L493.9,384.35 L494.12,385.75 L494.37,387.41 L494.4,387.63 L494.61,389.09 L494.84,390.79 L494.9,391.2 L495.07,392.5 L495.29,394.23 L495.4,395.11 L495.51,395.98 L495.71,397.75 L495.9,399.41 L496.11,401.31 L496.29,403.11 L496.4,404.17 L496.47,404.92 L496.65,406.73 L496.82,408.55 L496.9,409.47 L496.98,410.36 L497.14,412.18 L497.29,413.99 L497.4,415.38 L497.43,415.78 L497.57,417.56 L497.71,419.32 L497.83,421.06 L497.9,421.97 L497.96,422.76 L498.08,424.43 L498.19,426.06 L498.3,427.63 L498.4,429.14 L498.5,430.61 L498.59,432.01 L498.68,433.32 L498.77,434.57 L498.85,435.73 L498.9,436.44 L498.93,436.81 L499,437.81 L499.07,438.72 L499.13,439.55 L499.19,440.29 L499.25,440.96 L499.31,441.55 L499.36,442.06 L499.4,442.46 L499.45,442.9 L499.49,443.24 L499.53,443.52 L499.57,443.75 L499.63,444.11 L499.68,444.35 L499.74,444.56 L499.85,444.7 L499.96,444.49 L500.02,444.21 L500.07,443.88 L500.13,443.41 L500.17,443.11 L500.21,442.75 L500.25,442.33 L500.29,441.85 L500.34,441.3 L500.39,440.67 L500.45,439.97 L500.51,439.18 L500.57,438.31 L500.63,437.36 L500.7,436.33 L500.77,435.21 L500.85,434.02 L500.9,433.23 L500.93,432.74 L501.02,431.4 L501.11,429.98 L501.2,428.5 L501.3,426.97 L501.4,425.43 L501.51,423.76 L501.62,422.09 L501.74,420.39 L501.87,418.67 L501.9,418.2 L501.99,416.92 L502.13,415.16 L502.27,413.38 L502.4,411.76 L502.56,409.81 L502.72,408.03 L502.88,406.24 L503.05,404.46 L503.23,402.69 L503.4,400.99 L503.59,399.18 L503.79,397.44 L503.9,396.46 L503.99,395.72 L504.19,394.01 L504.4,392.38 L504.63,390.65 L504.86,388.99 L504.9,388.68 L505.09,387.35 L505.33,385.73 L505.4,385.3 L505.58,384.14 L505.84,382.56 L505.9,382.19 L506.1,381 L506.37,379.46 L506.65,377.95 L506.9,376.66 L506.94,376.45 L507.24,374.97 L507.4,374.18 L507.54,373.52 L507.85,372.09 L507.9,371.87 L508.17,370.67 L508.4,369.7 L508.5,369.28 L508.84,367.91 L508.9,367.66 L509.18,366.56 L509.4,365.74 L509.54,365.23 L509.9,363.93 L510.27,362.63 L510.4,362.21 L510.65,361.37 L510.9,360.58 L511.04,360.12 L511.4,359.03 L511.85,357.69 L512.27,356.51 L512.4,356.16 L512.7,355.35 L512.9,354.82 L513.14,354.2 L513.4,353.54 L513.59,353.08 L513.9,352.32 L514.04,351.98 L514.4,351.15 L514.51,350.89 L514.9,350.03 L514.99,349.83 L515.4,348.96 L515.9,347.92 L516.4,346.93 L516.49,346.76 L516.9,345.98 L517.01,345.78 L517.4,345.07 L517.54,344.82 L517.9,344.18 L518.08,343.88 L518.4,343.33 L518.63,342.95 L518.9,342.52 L519.19,342.05 L519.4,341.73 L519.77,341.16 L519.9,340.97 L520.36,340.3 L520.9,339.52 L521.4,338.84 L521.56,338.62 L521.9,338.17 L522.18,337.81 L522.4,337.53 L522.81,337.02 L523.4,336.31 L523.9,335.73 L524.11,335.49 L524.4,335.17 L524.78,334.76 L525.4,334.1 L525.9,333.59 L526.15,333.34 L526.4,333.09 L526.86,332.65 L527.4,332.15 L527.57,331.99 L527.9,331.69 L528.3,331.34 L528.9,330.83 L529.05,330.7 L529.4,330.41 L529.8,330.09 L530.4,329.62 L530.57,329.49 L530.9,329.24 L531.35,328.9 L531.9,328.51 L532.4,328.16" class="c2" stroke="#000" stroke-dasharray="8,6"/>
<path d="M322.4,311.41 L322.9,311.42 L323.4,311.42 L323.9,311.43 L324.4,311.44 L324.9,311.45 L325.4,311.45 L325.9,311.46 L326.4,311.47 L326.9,311.47 L327.4,311.48 L327.9,311.49 L328.4,311.5 L328.9,311.5 L329.4,311.51 L329.9,311.52 L330.4,311.53 L330.9,311.54 L331.4,311.54 L331.9,311.55 L332.4,311.56 L332.9,311.57 L333.4,311.58 L333.9,311.59 L334.4,311.59 L334.9,311.6 L335.4,311.61 L335.9,311.62 L336.4,311.63 L336.9,311.64 L337.4,311.65 L337.9,311.66 L338.4,311.67 L338.9,311.68 L339.4,311.68 L339.9,311.69 L340.4,311.7 L340.9,311.71 L341.4,311.72 L341.9,311.73 L342.4,311.74 L342.9,311.75 L343.4,311.76 L343.9,311.77 L344.4,311.78 L344.9,311.8 L345.4,311.81 L345.9,311.82 L346.4,311.83 L346.9,311.84 L347.4,311.85 L347.9,311.86 L348.4,311.87 L348.9,311.88 L349.4,311.9 L349.9,311.91 L350.4,311.92 L350.9,311.93 L351.4,311.94 L351.9,311.96 L352.4,311.97 L352.9,311.98 L353.4,311.99 L353.9,312.01 L354.4,312.02 L354.9,312.03 L355.4,312.05 L355.9,312.06 L356.4,312.07 L356.9,312.09 L357.4,312.1 L357.9,312.12 L358.4,312.13 L358.9,312.14 L359.4,312.16 L359.9,312.17 L360.4,312.19 L360.9,312.2 L361.4,312.22 L361.9,312.23 L362.4,312.25 L362.9,312.27 L363.4,312.28 L363.9,312.3 L364.4,312.32 L364.9,312.33 L365.4,312.35 L365.9,312.37 L366.4,312.38 L366.9,312.4 L367.4,312.42 L367.9,312.44 L368.4,312.45 L368.9,312.47 L369.4,312.49 L369.9,312.51 L370.4,312.53 L370.9,312.55 L371.4,312.57 L371.9,312.59 L372.4,312.61 L372.9,312.63 L373.4,312.65 L373.9,312.67 L374.4,312.69 L374.9,312.71 L375.4,312.73 L375.9,312.76 L376.4,312.78 L376.9,312.8 L377.4,312.82 L377.9,312.85 L378.4,312.87 L378.9,312.9 L379.4,312.92 L379.9,312.94 L380.4,312.97 L380.9,312.99 L381.4,313.02 L381.9,313.05 L382.4,313.07 L382.9,313.1 L383.4,313.13 L383.9,313.15 L384.4,313.18 L384.9,313.21 L385.4,313.24 L385.9,313.27 L386.4,313.3 L386.9,313.33 L387.4,313.36 L387.9,313.39 L388.4,313.42 L388.9,313.45 L389.4,313.48 L389.9,313.52 L390.4,313.55 L390.9,313.58 L391.4,313.62 L391.9,313.65 L392.4,313.69 L392.9,313.72 L393.4,313.76 L393.9,313.8 L394.4,313.83 L394.9,313.87 L395.4,313.91 L395.9,313.95 L396.4,313.99 L396.9,314.03 L397.4,314.07 L397.9,314.11 L398.4,314.16 L398.9,314.2 L399.4,314.24 L399.9,314.29 L400.4,314.33 L400.9,314.38 L401.4,314.43 L401.9,314.47 L402.4,314.52 L402.9,314.57 L403.4,314.62 L403.9,314.67 L404.4,314.73 L404.9,314.78 L405.4,314.83 L405.9,314.89 L406.4,314.94 L406.9,315 L407.4,315.06 L407.9,315.12 L408.4,315.18 L408.9,315.24 L409.4,315.3 L409.9,315.36 L410.4,315.43 L410.9,315.49 L411.4,315.56 L411.9,315.63 L412.4,315.7 L412.9,315.77 L413.4,315.84 L413.9,315.91 L414.4,315.99 L414.9,316.06 L415.4,316.14 L415.9,316.22 L416.4,316.3 L416.9,316.38 L417.4,316.47 L417.9,316.55 L418.4,316.64 L418.9,316.73 L419.4,316.82 L419.9,316.91 L420.4,317.01 L420.9,317.1 L421.4,317.2 L421.9,317.3 L422.4,317.41 L422.9,317.51 L423.4,317.62 L423.9,317.73 L424.4,317.84 L424.9,317.95 L425.4,318.07 L425.9,318.19 L426.4,318.31 L426.9,318.44 L427.4,318.56 L427.9,318.69 L428.4,318.83 L428.9,318.96 L429.4,319.1 L429.9,319.24 L430.4,319.39 L430.9,319.54 L431.4,319.69 L431.9,319.85 L432.4,320.01 L432.9,320.17 L433.4,320.34 L433.9,320.51 L434.4,320.69 L434.9,320.87 L435.4,321.05 L435.9,321.24 L436.4,321.43 L436.9,321.63 L437.4,321.84 L437.9,322.04 L438.4,322.26 L438.9,322.48 L439.4,322.7 L439.9,322.93 L440.4,323.17 L440.9,323.41 L441.4,323.66 L441.9,323.92 L442.4,324.18 L442.9,324.45 L443.4,324.73 L443.9,325.02 L444.4,325.31 L444.9,325.61 L445.4,325.92 L445.9,326.24 L446.4,326.57 L446.9,326.9 L447.4,327.25 L447.9,327.61 L448.4,327.97 L448.9,328.35 L449.4,328.74 L449.71,328.98 L449.9,329.14 L450.4,329.55 L450.9,329.98 L451.23,330.27 L451.4,330.42 L451.9,330.87 L452.4,331.34 L452.7,331.62 L452.9,331.82 L453.4,332.31 L453.9,332.82 L454.12,333.05 L454.4,333.35 L454.81,333.8 L455.4,334.46 L455.9,335.04 L456.16,335.35 L456.4,335.64 L456.82,336.16 L457.4,336.9 L457.9,337.57 L458.09,337.83 L458.4,338.25 L458.71,338.7 L458.9,338.96 L459.32,339.58 L459.9,340.46 L460.4,341.25 L460.51,341.42 L460.9,342.07 L461.08,342.37 L461.4,342.92 L461.64,343.35 L461.9,343.8 L462.2,344.34 L462.4,344.72 L462.74,345.36 L462.9,345.67 L463.27,346.4 L463.4,346.66 L463.79,347.46 L463.9,347.69 L464.3,348.54 L464.4,348.76 L464.8,349.64 L464.9,349.88 L465.28,350.77 L465.4,351.04 L465.76,351.92 L465.9,352.26 L466.23,353.09 L466.4,353.52 L466.69,354.28 L466.9,354.85 L467.14,355.49 L467.4,356.23 L467.57,356.73 L467.9,357.69 L468,357.99 L468.4,359.21 L468.83,360.58 L468.9,360.81 L469.23,361.91 L469.4,362.49 L469.62,363.26 L469.9,364.26 L470,364.63 L470.37,366.03 L470.74,367.45 L470.9,368.1 L471.09,368.89 L471.4,370.19 L471.77,371.84 L471.9,372.42 L472.1,373.36 L472.4,374.78 L472.73,376.45 L472.9,377.31 L473.04,378.03 L473.33,379.64 L473.4,380.01 L473.62,381.27 L473.9,382.92 L474.17,384.6 L474.4,386.07 L474.44,386.31 L474.69,388.03 L474.9,389.48 L474.94,389.78 L475.18,391.55 L475.4,393.2 L475.65,395.17 L475.87,397.01 L475.9,397.3 L476.08,398.88 L476.29,400.76 L476.4,401.83 L476.49,402.67 L476.68,404.6 L476.87,406.54 L476.9,406.88 L477.05,408.51 L477.22,410.49 L477.39,412.48 L477.55,414.49 L477.71,416.5 L477.86,418.53 L477.9,419.05 L478.01,420.55 L478.15,422.58 L478.28,424.6 L478.4,426.47 L478.53,428.61 L478.65,430.58 L478.76,432.53 L478.87,434.44 L478.9,434.94 L478.98,436.31 L479.07,438.12 L479.17,439.88 L479.26,441.57 L479.34,443.18 L479.4,444.25 L479.42,444.71 L479.5,446.15 L479.57,447.5 L479.64,448.74 L479.71,449.89 L479.77,450.93 L479.83,451.87 L479.88,452.7 L479.9,452.97 L479.93,453.44 L479.98,454.09 L480.02,454.65 L480.07,455.13 L480.1,455.54 L480.14,455.88 L480.17,456.16 L480.2,456.4 L480.26,456.74 L480.3,456.96 L480.36,457.16 L480.51,457 L480.57,456.66 L480.62,456.26 L480.65,455.99 L480.68,455.66 L480.71,455.27 L480.75,454.81 L480.78,454.26 L480.83,453.63 L480.87,452.91 L480.9,452.39 L480.92,452.08 L480.97,451.16 L481.02,450.14 L481.08,449.01 L481.14,447.77 L481.21,446.44 L481.28,445.01 L481.35,443.5 L481.4,442.42 L481.43,441.9 L481.51,440.22 L481.59,438.48 L481.68,436.68 L481.78,434.83 L481.87,432.93 L481.9,432.44 L481.98,431 L482.09,429.04 L482.2,427.06 L482.32,425.07 L482.4,423.72 L482.44,423.07 L482.57,421.06 L482.7,419.05 L482.84,417.05 L482.9,416.26 L482.99,415.06 L483.14,413.07 L483.3,411.1 L483.4,409.83 L483.46,409.15 L483.63,407.21 L483.8,405.29 L483.9,404.23 L483.98,403.38 L484.17,401.5 L484.36,399.64 L484.4,399.29 L484.56,397.81 L484.77,395.99 L484.9,394.89 L484.98,394.2 L485.2,392.43 L485.4,390.92 L485.43,390.68 L485.67,388.96 L485.9,387.32 L486.16,385.59 L486.4,384.02 L486.68,382.31 L486.9,380.99 L486.95,380.71 L487.23,379.13 L487.4,378.19 L487.52,377.57 L487.81,376.04 L487.9,375.59 L488.12,374.53 L488.4,373.17 L488.75,371.58 L488.9,370.9 L489.08,370.13 L489.4,368.77 L489.76,367.32 L489.9,366.76 L490.11,365.95 L490.4,364.87 L490.48,364.6 L490.85,363.27 L491.23,361.96 L491.4,361.39 L491.62,360.68 L491.9,359.79 L492.02,359.41 L492.4,358.26 L492.85,356.95 L493.28,355.76 L493.4,355.42 L493.71,354.58 L493.9,354.09 L494.16,353.42 L494.4,352.83 L494.62,352.29 L494.9,351.62 L495.09,351.18 L495.4,350.46 L495.57,350.09 L495.9,349.35 L496.05,349.02 L496.4,348.28 L496.55,347.97 L496.9,347.26 L497.06,346.94 L497.4,346.28 L497.58,345.93 L497.9,345.33 L498.11,344.94 L498.4,344.42 L498.65,343.97 L498.9,343.55 L499.21,343.03 L499.4,342.7 L499.77,342.1 L499.9,341.89 L500.34,341.19 L500.9,340.35 L501.4,339.62 L501.53,339.44 L501.9,338.92 L502.14,338.59 L502.4,338.24 L502.76,337.76 L502.9,337.58 L503.39,336.96 L503.9,336.33 L504.03,336.17 L504.4,335.73 L504.69,335.4 L504.9,335.15 L505.36,334.64 L505.9,334.06 L506.04,333.91 L506.4,333.53 L506.73,333.2 L506.9,333.02 L507.4,332.53 L507.9,332.05 L508.15,331.82 L508.4,331.59 L508.88,331.16 L509.4,330.71 L509.62,330.52 L509.9,330.28 L510.38,329.89 L510.9,329.47 L511.14,329.28 L511.4,329.08 L511.9,328.71 L512.4,328.34 L512.9,327.99 L513.4,327.64 L513.9,327.3 L514.4,326.97 L514.9,326.66 L515.4,326.35 L515.9,326.04 L516.4,325.75 L516.9,325.46 L517.4,325.18 L517.9,324.91 L518.4,324.65 L518.9,324.39 L519.4,324.14 L519.9,323.89 L520.4,323.65 L520.9,323.42 L521.4,323.19 L521.9,322.97 L522.4,322.76 L522.9,322.54 L523.4,322.34 L523.9,322.14 L524.4,321.94 L524.9,321.75 L525.4,321.56 L525.9,321.38 L526.4,321.2 L526.9,321.03 L527.4,320.85 L527.9,320.69 L528.4,320.53 L528.9,320.37 L529.4,320.21 L529.9,320.06 L530.4,319.91 L530.9,319.76 L531.4,319.62 L531.9,319.48 L532.4,319.34" class="c2" stroke="#e8141c" stroke-dasharray="9.6,4.4,2.6,4.4"/>
<path d="M322.4,312.5 L322.9,312.51 L323.4,312.53 L323.9,312.55 L324.4,312.56 L324.9,312.58 L325.4,312.6 L325.9,312.61 L326.4,312.63 L326.9,312.65 L327.4,312.67 L327.9,312.68 L328.4,312.7 L328.9,312.72 L329.4,312.74 L329.9,312.76 L330.4,312.77 L330.9,312.79 L331.4,312.81 L331.9,312.83 L332.4,312.85 L332.9,312.87 L333.4,312.89 L333.9,312.91 L334.4,312.93 L334.9,312.95 L335.4,312.97 L335.9,312.99 L336.4,313.02 L336.9,313.04 L337.4,313.06 L337.9,313.08 L338.4,313.1 L338.9,313.13 L339.4,313.15 L339.9,313.17 L340.4,313.2 L340.9,313.22 L341.4,313.24 L341.9,313.27 L342.4,313.29 L342.9,313.32 L343.4,313.34 L343.9,313.37 L344.4,313.4 L344.9,313.42 L345.4,313.45 L345.9,313.48 L346.4,313.5 L346.9,313.53 L347.4,313.56 L347.9,313.59 L348.4,313.62 L348.9,313.64 L349.4,313.67 L349.9,313.7 L350.4,313.73 L350.9,313.77 L351.4,313.8 L351.9,313.83 L352.4,313.86 L352.9,313.89 L353.4,313.93 L353.9,313.96 L354.4,313.99 L354.9,314.03 L355.4,314.06 L355.9,314.1 L356.4,314.13 L356.9,314.17 L357.4,314.2 L357.9,314.24 L358.4,314.28 L358.9,314.32 L359.4,314.36 L359.9,314.4 L360.4,314.44 L360.9,314.48 L361.4,314.52 L361.9,314.56 L362.4,314.6 L362.9,314.64 L363.4,314.69 L363.9,314.73 L364.4,314.78 L364.9,314.82 L365.4,314.87 L365.9,314.91 L366.4,314.96 L366.9,315.01 L367.4,315.06 L367.9,315.11 L368.4,315.16 L368.9,315.21 L369.4,315.26 L369.9,315.31 L370.4,315.37 L370.9,315.42 L371.4,315.48 L371.9,315.53 L372.4,315.59 L372.9,315.65 L373.4,315.71 L373.9,315.77 L374.4,315.83 L374.9,315.89 L375.4,315.95 L375.9,316.02 L376.4,316.08 L376.9,316.15 L377.4,316.22 L377.9,316.28 L378.4,316.35 L378.9,316.42 L379.4,316.5 L379.9,316.57 L380.4,316.64 L380.9,316.72 L381.4,316.8 L381.9,316.87 L382.4,316.95 L382.9,317.03 L383.4,317.12 L383.9,317.2 L384.4,317.29 L384.9,317.37 L385.4,317.46 L385.9,317.55 L386.4,317.64 L386.9,317.74 L387.4,317.83 L387.9,317.93 L388.4,318.03 L388.9,318.13 L389.4,318.23 L389.9,318.34 L390.4,318.44 L390.9,318.55 L391.4,318.66 L391.9,318.77 L392.4,318.89 L392.9,319.01 L393.4,319.12 L393.9,319.25 L394.4,319.37 L394.9,319.5 L395.4,319.63 L395.9,319.76 L396.4,319.89 L396.9,320.03 L397.4,320.17 L397.9,320.31 L398.4,320.46 L398.9,320.61 L399.4,320.76 L399.9,320.92 L400.4,321.08 L400.9,321.24 L401.4,321.4 L401.9,321.57 L402.4,321.74 L402.9,321.92 L403.4,322.1 L403.9,322.29 L404.4,322.48 L404.9,322.67 L405.4,322.87 L405.9,323.07 L406.4,323.27 L406.9,323.48 L407.4,323.7 L407.9,323.92 L408.4,324.15 L408.9,324.38 L409.4,324.61 L409.9,324.86 L410.4,325.11 L410.9,325.36 L411.4,325.62 L411.9,325.89 L412.4,326.16 L412.9,326.44 L413.4,326.73 L413.9,327.02 L414.4,327.32 L414.9,327.63 L415.4,327.95 L415.9,328.27 L416.4,328.61 L416.9,328.95 L417.4,329.3 L417.9,329.66 L418.4,330.03 L418.9,330.41 L419.4,330.8 L419.9,331.21 L420.05,331.33 L420.4,331.62 L420.83,331.98 L421.4,332.48 L421.6,332.65 L421.9,332.92 L422.35,333.34 L422.9,333.86 L423.1,334.05 L423.4,334.35 L423.83,334.77 L424.4,335.36 L424.54,335.51 L424.9,335.9 L425.25,336.27 L425.4,336.44 L425.9,337.01 L426.4,337.59 L426.62,337.85 L426.9,338.19 L427.29,338.66 L427.4,338.81 L427.9,339.44 L428.4,340.1 L428.59,340.35 L428.9,340.78 L429.22,341.22 L429.4,341.48 L429.84,342.11 L430.4,342.95 L430.9,343.72 L431.04,343.95 L431.4,344.52 L431.63,344.9 L431.9,345.35 L432.21,345.87 L432.4,346.21 L432.77,346.86 L432.9,347.1 L433.32,347.87 L433.86,348.9 L434.39,349.94 L434.9,350.99 L435.4,352.05 L435.9,353.16 L436.4,354.32 L436.89,355.49 L437.36,356.66 L437.81,357.85 L437.9,358.08 L438.26,359.06 L438.4,359.45 L438.7,360.3 L438.9,360.88 L439.13,361.55 L439.4,362.38 L439.55,362.83 L439.9,363.95 L440.36,365.44 L440.75,366.78 L440.9,367.33 L441.13,368.14 L441.4,369.15 L441.5,369.53 L441.86,370.94 L442.22,372.36 L442.4,373.13 L442.56,373.82 L442.9,375.29 L443.23,376.79 L443.4,377.6 L443.55,378.31 L443.86,379.85 L444.16,381.42 L444.4,382.69 L444.46,383.01 L444.75,384.63 L444.9,385.53 L445.03,386.27 L445.3,387.94 L445.4,388.59 L445.56,389.63 L445.82,391.35 L445.9,391.91 L446.07,393.09 L446.31,394.86 L446.4,395.55 L446.54,396.66 L446.77,398.48 L446.9,399.55 L446.99,400.33 L447.21,402.21 L447.4,404 L447.61,406.05 L447.81,408 L447.9,408.99 L447.99,409.99 L448.17,412 L448.35,414.05 L448.4,414.67 L448.52,416.11 L448.68,418.21 L448.84,420.33 L448.9,421.23 L448.99,422.47 L449.13,424.64 L449.27,426.83 L449.4,428.95 L449.53,431.27 L449.66,433.51 L449.78,435.76 L449.89,438.02 L450,440.28 L450.1,442.54 L450.2,444.79 L450.29,447.02 L450.38,449.22 L450.4,449.64 L450.47,451.39 L450.55,453.51 L450.63,455.57 L450.7,457.57 L450.77,459.48 L450.83,461.3 L450.89,463.03 L450.95,464.63 L451.01,466.13 L451.06,467.49 L451.11,468.73 L451.15,469.83 L451.19,470.81 L451.23,471.66 L451.27,472.4 L451.3,473.02 L451.33,473.55 L451.36,473.99 L451.38,474.34 L451.4,474.58 L451.42,474.86 L451.46,475.18 L451.5,475.41 L451.61,475.21 L451.64,474.88 L451.66,474.65 L451.68,474.34 L451.7,473.96 L451.72,473.49 L451.74,472.92 L451.77,472.24 L451.8,471.44 L451.83,470.51 L451.87,469.44 L451.9,468.52 L451.91,468.23 L451.95,466.89 L451.99,465.4 L452.04,463.79 L452.09,462.05 L452.15,460.2 L452.21,458.26 L452.27,456.22 L452.33,454.11 L452.4,451.95 L452.47,449.71 L452.55,447.46 L452.63,445.17 L452.72,442.86 L452.81,440.55 L452.9,438.24 L453,435.92 L453.1,433.61 L453.21,431.32 L453.32,429.05 L453.4,427.59 L453.44,426.79 L453.57,424.56 L453.69,422.36 L453.83,420.18 L453.9,419.06 L453.97,418.02 L454.11,415.9 L454.26,413.8 L454.4,412 L454.42,411.74 L454.58,409.7 L454.75,407.69 L454.9,406 L454.93,405.71 L455.11,403.77 L455.29,401.85 L455.4,400.8 L455.49,399.96 L455.69,398.1 L455.89,396.27 L456.11,394.46 L456.33,392.69 L456.4,392.13 L456.56,390.94 L456.79,389.22 L456.9,388.45 L457.03,387.53 L457.28,385.86 L457.4,385.09 L457.54,384.22 L457.8,382.6 L457.9,382.03 L458.07,381.01 L458.35,379.45 L458.4,379.2 L458.64,377.91 L458.9,376.58 L459.24,374.9 L459.4,374.14 L459.55,373.43 L459.87,371.99 L460.2,370.57 L460.4,369.74 L460.54,369.17 L460.88,367.8 L461.24,366.44 L461.4,365.84 L461.6,365.11 L461.9,364.06 L461.97,363.81 L462.35,362.52 L462.74,361.26 L462.9,360.77 L463.14,360.02 L463.4,359.25 L463.55,358.79 L463.9,357.8 L463.97,357.6 L464.4,356.42 L464.84,355.26 L465.29,354.12 L465.4,353.84 L465.74,353.01 L465.9,352.64 L466.21,351.91 L466.4,351.49 L466.69,350.84 L466.9,350.38 L467.18,349.78 L467.4,349.32 L467.68,348.75 L467.9,348.3 L468.19,347.73 L468.4,347.32 L468.71,346.74 L468.9,346.38 L469.24,345.77 L469.4,345.48 L469.78,344.81 L469.9,344.6 L470.33,343.87 L470.89,342.96 L471.4,342.17 L471.9,341.41 L472.06,341.18 L472.4,340.68 L472.65,340.33 L472.9,339.98 L473.26,339.49 L473.4,339.3 L473.88,338.66 L474.4,338 L474.51,337.86 L474.9,337.39 L475.16,337.08 L475.4,336.79 L475.81,336.31 L476.4,335.65 L476.9,335.11 L477.16,334.83 L477.4,334.58 L477.85,334.12 L478.4,333.58 L478.56,333.42 L478.9,333.1 L479.27,332.75 L479.9,332.18 L480.4,331.74 L480.75,331.44 L480.9,331.31 L481.4,330.89 L481.9,330.49 L482.27,330.2 L482.9,329.72 L483.05,329.6 L483.4,329.34 L483.9,328.98 L484.4,328.63 L484.9,328.29 L485.4,327.96 L485.9,327.63 L486.4,327.32 L486.9,327.01 L487.4,326.71 L487.9,326.42 L488.4,326.13 L488.9,325.85 L489.4,325.58 L489.9,325.32 L490.4,325.06 L490.9,324.81 L491.4,324.56 L491.9,324.33 L492.4,324.09 L492.9,323.86 L493.4,323.64 L493.9,323.42 L494.4,323.21 L494.9,323 L495.4,322.8 L495.9,322.6 L496.4,322.41 L496.9,322.22 L497.4,322.04 L497.9,321.86 L498.4,321.68 L498.9,321.51 L499.4,321.34 L499.9,321.17 L500.4,321.01 L500.9,320.85 L501.4,320.7 L501.9,320.54 L502.4,320.4 L502.9,320.25 L503.4,320.11 L503.9,319.97 L504.4,319.83 L504.9,319.7 L505.4,319.57 L505.9,319.44 L506.4,319.31 L506.9,319.19 L507.4,319.07 L507.9,318.95 L508.4,318.83 L508.9,318.72 L509.4,318.61 L509.9,318.5 L510.4,318.39 L510.9,318.29 L511.4,318.18 L511.9,318.08 L512.4,317.98 L512.9,317.88 L513.4,317.79 L513.9,317.69 L514.4,317.6 L514.9,317.51 L515.4,317.42 L515.9,317.33 L516.4,317.25 L516.9,317.16 L517.4,317.08 L517.9,317 L518.4,316.92 L518.9,316.84 L519.4,316.76 L519.9,316.69 L520.4,316.61 L520.9,316.54 L521.4,316.47 L521.9,316.4 L522.4,316.33 L522.9,316.26 L523.4,316.19 L523.9,316.13 L524.4,316.06 L524.9,316 L525.4,315.93 L525.9,315.87 L526.4,315.81 L526.9,315.75 L527.4,315.69 L527.9,315.63 L528.4,315.58 L528.9,315.52 L529.4,315.47 L529.9,315.41 L530.4,315.36 L530.9,315.3 L531.4,315.25 L531.9,315.2 L532.4,315.15" class="c2" stroke="#1020e8"/>
</g>
<path d="M322.4,478.9v3 M322.4,310.3v2.5 M374.9,478.9v3 M374.9,310.3v2.5 M427.4,478.9v3 M427.4,310.3v2.5 M479.9,478.9v3 M479.9,310.3v2.5 M532.4,478.9v3 M532.4,310.3v2.5 M348.65,478.9v1.8 M348.65,310.3v1.5 M401.15,478.9v1.8 M401.15,310.3v1.5 M453.65,478.9v1.8 M453.65,310.3v1.5 M506.15,478.9v1.8 M506.15,310.3v1.5 M322.4,310.3h-3 M532.4,310.3h-2.5 M322.4,334.39h-3 M532.4,334.39h-2.5 M322.4,358.47h-3 M532.4,358.47h-2.5 M322.4,382.56h-3 M532.4,382.56h-2.5 M322.4,406.64h-3 M532.4,406.64h-2.5 M322.4,430.73h-3 M532.4,430.73h-2.5 M322.4,454.81h-3 M532.4,454.81h-2.5 M322.4,478.9h-3 M532.4,478.9h-2.5 M322.4,322.34h-1.8 M532.4,322.34h-1.5 M322.4,346.43h-1.8 M532.4,346.43h-1.5 M322.4,370.51h-1.8 M532.4,370.51h-1.5 M322.4,394.6h-1.8 M532.4,394.6h-1.5 M322.4,418.69h-1.8 M532.4,418.69h-1.5 M322.4,442.77h-1.8 M532.4,442.77h-1.5 M322.4,466.86h-1.8 M532.4,466.86h-1.5" class="tk"/>
<rect x="322.4" y="310.3" width="210" height="168.6" class="box"/>
<text x="322.4" y="495.9" class="tl" text-anchor="middle">1.20</text>
<text x="374.9" y="495.9" class="tl" text-anchor="middle">1.25</text>
<text x="427.4" y="495.9" class="tl" text-anchor="middle">1.30</text>
<text x="479.9" y="495.9" class="tl" text-anchor="middle">1.35</text>
<text x="532.4" y="495.9" class="tl" text-anchor="middle">1.40</text>
<text x="316.9" y="314.2" class="tl" text-anchor="end">0</text>
<text x="316.9" y="338.29" class="tl" text-anchor="end">&#8722;5</text>
<text x="316.9" y="362.37" class="tl" text-anchor="end">&#8722;10</text>
<text x="316.9" y="386.46" class="tl" text-anchor="end">&#8722;15</text>
<text x="316.9" y="410.54" class="tl" text-anchor="end">&#8722;20</text>
<text x="316.9" y="434.63" class="tl" text-anchor="end">&#8722;25</text>
<text x="316.9" y="458.71" class="tl" text-anchor="end">&#8722;30</text>
<text x="316.9" y="482.8" class="tl" text-anchor="end">&#8722;35</text>
<rect x="325.5" y="433.9" width="90.5" height="36.5" fill="#fff" stroke="#b8b8b8" stroke-width="0.8"/>
<line x1="326.9" y1="442" x2="350" y2="442" stroke="#000" stroke-width="2" stroke-dasharray="8,8.7"/>
<text x="352.3" y="445.6" class="lg">N3 = 6.5 turns</text>
<line x1="326.9" y1="453.7" x2="350" y2="453.7" stroke="#e8141c" stroke-width="2" stroke-dasharray="9.6,4.5,2.6,4.4"/>
<text x="352.3" y="457.3" class="lg">N3 = 7.5 turns</text>
<line x1="326.9" y1="465.4" x2="350" y2="465.4" stroke="#1020e8" stroke-width="2" />
<text x="352.3" y="469" class="lg">N3 = 8.5 turns</text>
<text x="427.6" y="301.8" class="ti" text-anchor="middle">Number of Turns (N3) Variation</text>
<text x="427.3" y="518.1" class="al" text-anchor="middle">Frequency (GHz)</text>
<text transform="translate(286,394.2) rotate(-90)" class="al" text-anchor="middle">S<tspan style="font-size:9.5px" dy="2">11</tspan><tspan dy="-2"> (dB)</tspan></text>
<text x="424.3" y="553.4" class="al" text-anchor="middle">(d)</text>
<path d="M120.8,11.5V35 M168.5,11.5V166.5 M120.8,16.5H168.5 M129,36.5H241.5 M173,46H207.6 M173,55.8H207.6 M203,30.5V90 M173,105.5H207.6 M173,128.2H207.6 M203,105.5V128.2 M236.4,36.5V186.2 M173,171.7H207 M173,181.7H207 M160,186.2H241.5 M202.1,155.8V214.3" stroke="#4a4a4a" stroke-width="1.05" fill="none"/>
<path d="M120.8,16.5L128.3,14.8L128.3,18.2Z" fill="#1a1a1a"/>
<path d="M168.5,16.5L161,18.2L161,14.8Z" fill="#1a1a1a"/>
<path d="M203,46L201.5,39.5L204.5,39.5Z" fill="#1a1a1a"/>
<path d="M203,55.8L204.5,62.3L201.5,62.3Z" fill="#1a1a1a"/>
<path d="M203,105.5L204.5,112L201.5,112Z" fill="#1a1a1a"/>
<path d="M203,128.2L201.5,121.7L204.5,121.7Z" fill="#1a1a1a"/>
<path d="M236.4,36.5L238.1,44L234.7,44Z" fill="#1a1a1a"/>
<path d="M236.4,186.2L234.7,178.7L238.1,178.7Z" fill="#1a1a1a"/>
<path d="M202.1,170.6L200.6,164.1L203.6,164.1Z" fill="#1a1a1a"/>
<path d="M202.1,183.4L203.6,189.9L200.6,189.9Z" fill="#1a1a1a"/>
<text x="144.7" y="14.1" class="dt" text-anchor="middle">D</text>
<text transform="translate(201,80.5) rotate(-90)" class="dt" text-anchor="middle">S3</text>
<text transform="translate(199.8,116.8) rotate(-90)" class="dt" text-anchor="middle">S2</text>
<text transform="translate(199,205.3) rotate(-90)" class="dt" text-anchor="middle">S1</text>
<text transform="translate(233.8,111.3) rotate(-90)" class="dt" text-anchor="middle">L</text>
<text x="41.2" y="23.6" class="st" text-anchor="middle">Third Stage</text>
<text x="40.5" y="36" class="st" text-anchor="middle">(N3 Turns)</text>
<text x="40.8" y="88.4" class="st" text-anchor="middle">Second Stage</text>
<text x="40.5" y="100.7" class="st" text-anchor="middle">(N2 Turns)</text>
<text x="48.5" y="135.5" class="st" text-anchor="middle">First Stage</text>
<text x="48.7" y="148" class="st" text-anchor="middle">(N1 Turns)</text>
<path d="M13,38.5H76L117.5,69.2 M6.6,103.5H82.7L117.5,132.3 M22.5,150.5H82.7L116,173.8" stroke="#222" stroke-width="0.9" fill="none"/>
<path d="M119.6,70.6L114.87,68.58L116.3,66.66Z" fill="#111"/>
<path d="M119.6,133.6L114.98,131.35L116.5,129.5Z" fill="#111"/>
<path d="M118.2,175.1L113.41,173.23L114.78,171.26Z" fill="#111"/>
<path d="M121,47 H167.6 V99 H121 Z" fill="#0a1a0a"/>
<line x1="125" y1="40.6" x2="164" y2="43.4" stroke="#000" stroke-width="8.8" stroke-linecap="round"/>
<line x1="125" y1="40.6" x2="164" y2="43.4" stroke="#1b521d" stroke-width="6.4" stroke-linecap="round"/>
<path d="M123.6,50.5C125.6,54.5 150.4,55.62 164.4,56.62" stroke="#000" stroke-width="8" stroke-linecap="round" fill="none"/>
<path d="M123.6,50.5C125.6,54.5 150.4,55.62 164.4,56.62" stroke="#1b521d" stroke-width="5.6" stroke-linecap="round" fill="none"/>
<path d="M123.6,60.22C125.6,64.22 150.4,65.34 164.4,66.34" stroke="#000" stroke-width="8" stroke-linecap="round" fill="none"/>
<path d="M123.6,60.22C125.6,64.22 150.4,65.34 164.4,66.34" stroke="#1b521d" stroke-width="5.6" stroke-linecap="round" fill="none"/>
<path d="M123.6,69.94C125.6,73.94 150.4,75.06 164.4,76.06" stroke="#000" stroke-width="8" stroke-linecap="round" fill="none"/>
<path d="M123.6,69.94C125.6,73.94 150.4,75.06 164.4,76.06" stroke="#1b521d" stroke-width="5.6" stroke-linecap="round" fill="none"/>
<path d="M123.6,79.66C125.6,83.66 150.4,84.78 164.4,85.78" stroke="#000" stroke-width="8" stroke-linecap="round" fill="none"/>
<path d="M123.6,79.66C125.6,83.66 150.4,84.78 164.4,85.78" stroke="#1b521d" stroke-width="5.6" stroke-linecap="round" fill="none"/>
<path d="M123.6,89.38C125.6,93.38 150.4,94.5 164.4,95.5" stroke="#000" stroke-width="8" stroke-linecap="round" fill="none"/>
<path d="M123.6,89.38C125.6,93.38 150.4,94.5 164.4,95.5" stroke="#1b521d" stroke-width="5.6" stroke-linecap="round" fill="none"/>
<line x1="124.6" y1="102.2" x2="159.5" y2="103" stroke="#000" stroke-width="8.2" stroke-linecap="round"/>
<line x1="124.6" y1="102.2" x2="159.5" y2="103" stroke="#1b521d" stroke-width="5.8" stroke-linecap="round"/>
<path d="M124.4,118.2C126.4,126.2 150,124.1 164,127.6" stroke="#000" stroke-width="9.4" stroke-linecap="round" fill="none"/>
<path d="M124.4,118.2C126.4,126.2 150,124.1 164,127.6" stroke="#d8722a" stroke-width="7" stroke-linecap="round" fill="none"/>
<path d="M124.4,139.4C126.4,147.4 150,146.1 164,149.6" stroke="#000" stroke-width="9.4" stroke-linecap="round" fill="none"/>
<path d="M124.4,139.4C126.4,147.4 150,146.1 164,149.6" stroke="#d8722a" stroke-width="7" stroke-linecap="round" fill="none"/>
<path d="M124.4,161C126.4,169 150,168.9 164,172.4" stroke="#000" stroke-width="9.4" stroke-linecap="round" fill="none"/>
<path d="M124.4,161C126.4,169 150,168.9 164,172.4" stroke="#d8722a" stroke-width="7" stroke-linecap="round" fill="none"/>
<line x1="128" y1="182" x2="162.3" y2="182" stroke="#000" stroke-width="7.8" stroke-linecap="round"/>
<line x1="128" y1="182" x2="162.3" y2="182" stroke="#b01e1e" stroke-width="5.4" stroke-linecap="round"/>
<line x1="123.6" y1="50.5" x2="164.4" y2="46.9" stroke="#000" stroke-width="8.9" stroke-linecap="round"/>
<line x1="123.6" y1="50.5" x2="164.4" y2="46.9" stroke="#226824" stroke-width="6.5" stroke-linecap="round"/>
<line x1="126.6" y1="49.52" x2="161.4" y2="45.92" stroke="#2f7d31" stroke-width="2.27" stroke-linecap="round" opacity="0.7"/>
<line x1="123.6" y1="60.22" x2="164.4" y2="56.62" stroke="#000" stroke-width="8.9" stroke-linecap="round"/>
<line x1="123.6" y1="60.22" x2="164.4" y2="56.62" stroke="#226824" stroke-width="6.5" stroke-linecap="round"/>
<line x1="126.6" y1="59.24" x2="161.4" y2="55.64" stroke="#2f7d31" stroke-width="2.27" stroke-linecap="round" opacity="0.7"/>
<line x1="123.6" y1="69.94" x2="164.4" y2="66.34" stroke="#000" stroke-width="8.9" stroke-linecap="round"/>
<line x1="123.6" y1="69.94" x2="164.4" y2="66.34" stroke="#226824" stroke-width="6.5" stroke-linecap="round"/>
<line x1="126.6" y1="68.97" x2="161.4" y2="65.37" stroke="#2f7d31" stroke-width="2.27" stroke-linecap="round" opacity="0.7"/>
<line x1="123.6" y1="79.66" x2="164.4" y2="76.06" stroke="#000" stroke-width="8.9" stroke-linecap="round"/>
<line x1="123.6" y1="79.66" x2="164.4" y2="76.06" stroke="#226824" stroke-width="6.5" stroke-linecap="round"/>
<line x1="126.6" y1="78.69" x2="161.4" y2="75.09" stroke="#2f7d31" stroke-width="2.27" stroke-linecap="round" opacity="0.7"/>
<line x1="123.6" y1="89.38" x2="164.4" y2="85.78" stroke="#000" stroke-width="8.9" stroke-linecap="round"/>
<line x1="123.6" y1="89.38" x2="164.4" y2="85.78" stroke="#226824" stroke-width="6.5" stroke-linecap="round"/>
<line x1="126.6" y1="88.41" x2="161.4" y2="84.81" stroke="#2f7d31" stroke-width="2.27" stroke-linecap="round" opacity="0.7"/>
<line x1="123.6" y1="99.1" x2="164.4" y2="95.5" stroke="#000" stroke-width="8.9" stroke-linecap="round"/>
<line x1="123.6" y1="99.1" x2="164.4" y2="95.5" stroke="#226824" stroke-width="6.5" stroke-linecap="round"/>
<line x1="126.6" y1="98.12" x2="161.4" y2="94.53" stroke="#2f7d31" stroke-width="2.27" stroke-linecap="round" opacity="0.7"/>
<line x1="164" y1="106" x2="124.4" y2="118.2" stroke="#000" stroke-width="9.8" stroke-linecap="round"/>
<line x1="164" y1="106" x2="124.4" y2="118.2" stroke="#e07a2c" stroke-width="7.4" stroke-linecap="round"/>
<line x1="167" y1="104.89" x2="121.4" y2="117.09" stroke="#f09a55" stroke-width="2.59" stroke-linecap="round" opacity="0.7"/>
<line x1="164" y1="127.6" x2="124.4" y2="139.4" stroke="#000" stroke-width="9.8" stroke-linecap="round"/>
<line x1="164" y1="127.6" x2="124.4" y2="139.4" stroke="#e07a2c" stroke-width="7.4" stroke-linecap="round"/>
<line x1="167" y1="126.49" x2="121.4" y2="138.29" stroke="#f09a55" stroke-width="2.59" stroke-linecap="round" opacity="0.7"/>
<line x1="164" y1="149.6" x2="124.4" y2="161" stroke="#000" stroke-width="9.8" stroke-linecap="round"/>
<line x1="164" y1="149.6" x2="124.4" y2="161" stroke="#e07a2c" stroke-width="7.4" stroke-linecap="round"/>
<line x1="167" y1="148.49" x2="121.4" y2="159.89" stroke="#f09a55" stroke-width="2.59" stroke-linecap="round" opacity="0.7"/>
<line x1="164.2" y1="172.4" x2="124" y2="176.9" stroke="#000" stroke-width="9.2" stroke-linecap="round"/>
<line x1="164.2" y1="172.4" x2="124" y2="176.9" stroke="#d42a2a" stroke-width="6.8" stroke-linecap="round"/>
<line x1="167.2" y1="171.38" x2="121" y2="175.88" stroke="#e86060" stroke-width="2.38" stroke-linecap="round" opacity="0.7"/>
<circle cx="124.4" cy="40.5" r="4.1" fill="#226824" stroke="#000" stroke-width="1.3"/>
<path d="M140,186.5V182Q140,178.6 143.4,178.6H147.8V186.5Z" fill="#a5181c" stroke="#000" stroke-width="1"/>
<path d="M148.3,178.6V186.2 M152.1,178.6V186.2" stroke="#000" stroke-width="0.9"/>
<rect x="139.6" y="186.3" width="8.2" height="44.8" fill="#c3195f" stroke="#000" stroke-width="1"/>
<text x="148.5" y="271.4" class="al" text-anchor="middle">(a)</text>
</svg>
</body></html>
